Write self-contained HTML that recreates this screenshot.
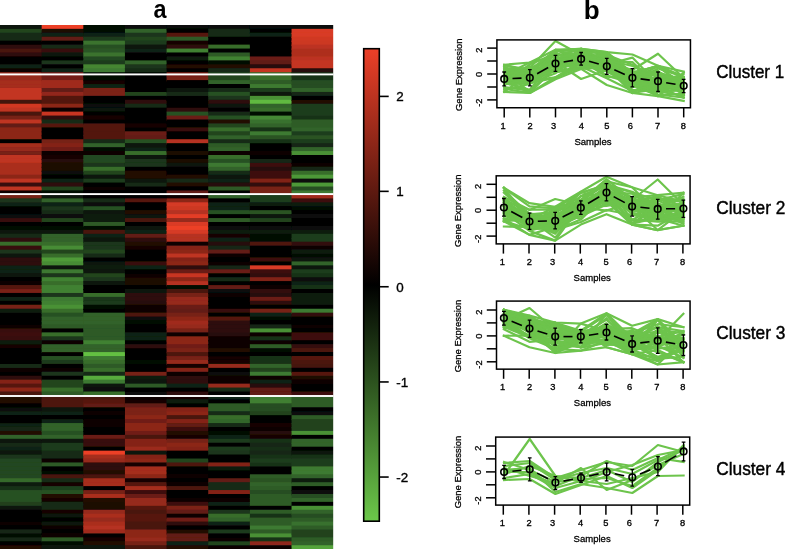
<!DOCTYPE html>
<html><head><meta charset="utf-8"><title>Figure</title>
<style>html,body{margin:0;padding:0;background:#fff}svg{display:block}text{font-family:"Liberation Sans",sans-serif;fill:#000}</style>
</head><body>
<svg width="785" height="549" viewBox="0 0 785 549">
<rect width="785" height="549" fill="#fff"/>
<defs><filter id="bl" x="-2%" y="-2%" width="104%" height="104%"><feGaussianBlur stdDeviation="0.45"/></filter>
<linearGradient id="cb" x1="0" y1="0" x2="0" y2="1">
<stop offset="0" stop-color="rgb(236, 64, 40)"/><stop offset="0.5" stop-color="#000"/><stop offset="1" stop-color="rgb(108, 200, 74)"/></linearGradient>
<clipPath id="hc"><rect x="0" y="24.9" width="333.2" height="524.2"/></clipPath>
</defs>
<g clip-path="url(#hc)"><g filter="url(#bl)">
<rect x="-3" y="24.9" width="336.2" height="529.1" fill="#000"/>
<rect x="-3.00" y="24.90" width="339.20" height="5.14" fill="#09130a"/>
<rect x="-3.00" y="28.84" width="339.20" height="5.14" fill="#22441f"/>
<rect x="-3.00" y="32.78" width="339.20" height="5.14" fill="#152c17"/>
<rect x="-3.00" y="36.73" width="339.20" height="5.14" fill="#152c17"/>
<rect x="-3.00" y="40.67" width="339.20" height="5.14" fill="#000000"/>
<rect x="-3.00" y="44.61" width="339.20" height="5.14" fill="#2d0c09"/>
<rect x="-3.00" y="48.55" width="339.20" height="5.14" fill="#48130d"/>
<rect x="-3.00" y="52.49" width="339.20" height="5.14" fill="#2d0c09"/>
<rect x="-3.00" y="56.44" width="339.20" height="5.14" fill="#000000"/>
<rect x="-3.00" y="60.38" width="339.20" height="5.14" fill="#000000"/>
<rect x="-3.00" y="64.32" width="339.20" height="5.14" fill="#102112"/>
<rect x="-3.00" y="68.26" width="339.20" height="5.14" fill="#090302"/>
<rect x="-3.00" y="72.20" width="339.20" height="5.14" fill="#96291b"/>
<rect x="-3.00" y="76.15" width="339.20" height="5.14" fill="#96291b"/>
<rect x="-3.00" y="80.09" width="339.20" height="5.14" fill="#a52d1d"/>
<rect x="-3.00" y="84.03" width="339.20" height="5.14" fill="#a52d1d"/>
<rect x="-3.00" y="87.97" width="339.20" height="5.14" fill="#c33522"/>
<rect x="-3.00" y="91.91" width="339.20" height="5.14" fill="#c33522"/>
<rect x="-3.00" y="95.86" width="339.20" height="5.14" fill="#c33522"/>
<rect x="-3.00" y="99.80" width="339.20" height="5.14" fill="#42120c"/>
<rect x="-3.00" y="103.74" width="339.20" height="5.14" fill="#d13924"/>
<rect x="-3.00" y="107.68" width="339.20" height="5.14" fill="#bf3421"/>
<rect x="-3.00" y="111.62" width="339.20" height="5.14" fill="#48130d"/>
<rect x="-3.00" y="115.57" width="339.20" height="5.14" fill="#772016"/>
<rect x="-3.00" y="119.51" width="339.20" height="5.14" fill="#bf3421"/>
<rect x="-3.00" y="123.45" width="339.20" height="5.14" fill="#621b12"/>
<rect x="-3.00" y="127.39" width="339.20" height="5.14" fill="#8c2619"/>
<rect x="-3.00" y="131.33" width="339.20" height="5.14" fill="#8c2619"/>
<rect x="-3.00" y="135.28" width="339.20" height="5.14" fill="#8c2619"/>
<rect x="-3.00" y="139.22" width="339.20" height="5.14" fill="#000000"/>
<rect x="-3.00" y="143.16" width="339.20" height="5.14" fill="#a52d1d"/>
<rect x="-3.00" y="147.10" width="339.20" height="5.14" fill="#96291b"/>
<rect x="-3.00" y="151.04" width="339.20" height="5.14" fill="#772016"/>
<rect x="-3.00" y="154.99" width="339.20" height="5.14" fill="#bf3421"/>
<rect x="-3.00" y="158.93" width="339.20" height="5.14" fill="#bf3421"/>
<rect x="-3.00" y="162.87" width="339.20" height="5.14" fill="#aa2e1e"/>
<rect x="-3.00" y="166.81" width="339.20" height="5.14" fill="#aa2e1e"/>
<rect x="-3.00" y="170.75" width="339.20" height="5.14" fill="#aa2e1e"/>
<rect x="-3.00" y="174.70" width="339.20" height="5.14" fill="#8c2619"/>
<rect x="-3.00" y="178.64" width="339.20" height="5.14" fill="#bf3421"/>
<rect x="-3.00" y="182.58" width="339.20" height="5.14" fill="#370f0a"/>
<rect x="-3.00" y="186.52" width="339.20" height="5.14" fill="#bf3421"/>
<rect x="-3.00" y="190.46" width="339.20" height="5.14" fill="#090302"/>
<rect x="-3.00" y="194.41" width="339.20" height="5.14" fill="#772016"/>
<rect x="-3.00" y="198.35" width="339.20" height="5.14" fill="#1a351a"/>
<rect x="-3.00" y="202.29" width="339.20" height="5.14" fill="#102112"/>
<rect x="-3.00" y="206.23" width="339.20" height="5.14" fill="#000000"/>
<rect x="-3.00" y="210.17" width="339.20" height="5.14" fill="#000000"/>
<rect x="-3.00" y="214.12" width="339.20" height="5.14" fill="#070e08"/>
<rect x="-3.00" y="218.06" width="339.20" height="5.14" fill="#370f0a"/>
<rect x="-3.00" y="222.00" width="339.20" height="5.14" fill="#000000"/>
<rect x="-3.00" y="225.94" width="339.20" height="5.14" fill="#050a05"/>
<rect x="-3.00" y="229.88" width="339.20" height="5.14" fill="#0b170d"/>
<rect x="-3.00" y="233.83" width="339.20" height="5.14" fill="#152c17"/>
<rect x="-3.00" y="237.77" width="339.20" height="5.14" fill="#2d0c09"/>
<rect x="-3.00" y="241.71" width="339.20" height="5.14" fill="#376d2c"/>
<rect x="-3.00" y="245.65" width="339.20" height="5.14" fill="#370f0a"/>
<rect x="-3.00" y="249.59" width="339.20" height="5.14" fill="#1a351a"/>
<rect x="-3.00" y="253.54" width="339.20" height="5.14" fill="#0b170d"/>
<rect x="-3.00" y="257.48" width="339.20" height="5.14" fill="#2d0c09"/>
<rect x="-3.00" y="261.42" width="339.20" height="5.14" fill="#2d0c09"/>
<rect x="-3.00" y="265.36" width="339.20" height="5.14" fill="#102112"/>
<rect x="-3.00" y="269.30" width="339.20" height="5.14" fill="#102112"/>
<rect x="-3.00" y="273.25" width="339.20" height="5.14" fill="#0b170d"/>
<rect x="-3.00" y="277.19" width="339.20" height="5.14" fill="#000000"/>
<rect x="-3.00" y="281.13" width="339.20" height="5.14" fill="#090302"/>
<rect x="-3.00" y="285.07" width="339.20" height="5.14" fill="#571810"/>
<rect x="-3.00" y="289.01" width="339.20" height="5.14" fill="#772016"/>
<rect x="-3.00" y="292.96" width="339.20" height="5.14" fill="#060201"/>
<rect x="-3.00" y="296.90" width="339.20" height="5.14" fill="#102112"/>
<rect x="-3.00" y="300.84" width="339.20" height="5.14" fill="#060201"/>
<rect x="-3.00" y="304.78" width="339.20" height="5.14" fill="#772016"/>
<rect x="-3.00" y="308.72" width="339.20" height="5.14" fill="#0e1c0f"/>
<rect x="-3.00" y="312.67" width="339.20" height="5.14" fill="#000000"/>
<rect x="-3.00" y="316.61" width="339.20" height="5.14" fill="#000000"/>
<rect x="-3.00" y="320.55" width="339.20" height="5.14" fill="#000000"/>
<rect x="-3.00" y="324.49" width="339.20" height="5.14" fill="#090302"/>
<rect x="-3.00" y="328.43" width="339.20" height="5.14" fill="#370f0a"/>
<rect x="-3.00" y="332.38" width="339.20" height="5.14" fill="#3d100b"/>
<rect x="-3.00" y="336.32" width="339.20" height="5.14" fill="#370f0a"/>
<rect x="-3.00" y="340.26" width="339.20" height="5.14" fill="#0e1c0f"/>
<rect x="-3.00" y="344.20" width="339.20" height="5.14" fill="#120504"/>
<rect x="-3.00" y="348.14" width="339.20" height="5.14" fill="#000000"/>
<rect x="-3.00" y="352.09" width="339.20" height="5.14" fill="#000000"/>
<rect x="-3.00" y="356.03" width="339.20" height="5.14" fill="#000000"/>
<rect x="-3.00" y="359.97" width="339.20" height="5.14" fill="#000000"/>
<rect x="-3.00" y="363.91" width="339.20" height="5.14" fill="#152c17"/>
<rect x="-3.00" y="367.85" width="339.20" height="5.14" fill="#0e0403"/>
<rect x="-3.00" y="371.80" width="339.20" height="5.14" fill="#000000"/>
<rect x="-3.00" y="375.74" width="339.20" height="5.14" fill="#2d0c09"/>
<rect x="-3.00" y="379.68" width="339.20" height="5.14" fill="#842418"/>
<rect x="-3.00" y="383.62" width="339.20" height="5.14" fill="#571810"/>
<rect x="-3.00" y="387.56" width="339.20" height="5.14" fill="#8c2619"/>
<rect x="-3.00" y="391.51" width="339.20" height="5.14" fill="#48130d"/>
<rect x="-3.00" y="395.45" width="339.20" height="5.14" fill="#220906"/>
<rect x="-3.00" y="399.39" width="339.20" height="5.14" fill="#220906"/>
<rect x="-3.00" y="403.33" width="339.20" height="5.14" fill="#000000"/>
<rect x="-3.00" y="407.27" width="339.20" height="5.14" fill="#070e08"/>
<rect x="-3.00" y="411.22" width="339.20" height="5.14" fill="#102112"/>
<rect x="-3.00" y="415.16" width="339.20" height="5.14" fill="#000000"/>
<rect x="-3.00" y="419.10" width="339.20" height="5.14" fill="#000000"/>
<rect x="-3.00" y="423.04" width="339.20" height="5.14" fill="#102112"/>
<rect x="-3.00" y="426.98" width="339.20" height="5.14" fill="#132615"/>
<rect x="-3.00" y="430.93" width="339.20" height="5.14" fill="#220906"/>
<rect x="-3.00" y="434.87" width="339.20" height="5.14" fill="#316229"/>
<rect x="-3.00" y="438.81" width="339.20" height="5.14" fill="#09130a"/>
<rect x="-3.00" y="442.75" width="339.20" height="5.14" fill="#152c17"/>
<rect x="-3.00" y="446.69" width="339.20" height="5.14" fill="#102112"/>
<rect x="-3.00" y="450.64" width="339.20" height="5.14" fill="#09130a"/>
<rect x="-3.00" y="454.58" width="339.20" height="5.14" fill="#1a351a"/>
<rect x="-3.00" y="458.52" width="339.20" height="5.14" fill="#234720"/>
<rect x="-3.00" y="462.46" width="339.20" height="5.14" fill="#234720"/>
<rect x="-3.00" y="466.40" width="339.20" height="5.14" fill="#234720"/>
<rect x="-3.00" y="470.35" width="339.20" height="5.14" fill="#234720"/>
<rect x="-3.00" y="474.29" width="339.20" height="5.14" fill="#234720"/>
<rect x="-3.00" y="478.23" width="339.20" height="5.14" fill="#356a2b"/>
<rect x="-3.00" y="482.17" width="339.20" height="5.14" fill="#0e1d10"/>
<rect x="-3.00" y="486.11" width="339.20" height="5.14" fill="#173018"/>
<rect x="-3.00" y="490.06" width="339.20" height="5.14" fill="#285124"/>
<rect x="-3.00" y="494.00" width="339.20" height="5.14" fill="#285124"/>
<rect x="-3.00" y="497.94" width="339.20" height="5.14" fill="#285124"/>
<rect x="-3.00" y="501.88" width="339.20" height="5.14" fill="#20411e"/>
<rect x="-3.00" y="505.82" width="339.20" height="5.14" fill="#0b170d"/>
<rect x="-3.00" y="509.77" width="339.20" height="5.14" fill="#000000"/>
<rect x="-3.00" y="513.71" width="339.20" height="5.14" fill="#000000"/>
<rect x="-3.00" y="517.65" width="339.20" height="5.14" fill="#000000"/>
<rect x="-3.00" y="521.59" width="339.20" height="5.14" fill="#090302"/>
<rect x="-3.00" y="525.53" width="339.20" height="5.14" fill="#000000"/>
<rect x="-3.00" y="529.48" width="339.20" height="5.14" fill="#132615"/>
<rect x="-3.00" y="533.42" width="339.20" height="5.14" fill="#050a05"/>
<rect x="-3.00" y="537.36" width="339.20" height="5.14" fill="#132615"/>
<rect x="-3.00" y="541.30" width="339.20" height="5.14" fill="#000000"/>
<rect x="-3.00" y="545.24" width="339.20" height="5.14" fill="#220906"/>
<rect x="41.65" y="24.90" width="294.55" height="5.14" fill="#ec4028"/>
<rect x="41.65" y="28.84" width="294.55" height="5.14" fill="#1c0805"/>
<rect x="41.65" y="32.78" width="294.55" height="5.14" fill="#102112"/>
<rect x="41.65" y="36.73" width="294.55" height="5.14" fill="#621b12"/>
<rect x="41.65" y="40.67" width="294.55" height="5.14" fill="#000000"/>
<rect x="41.65" y="44.61" width="294.55" height="5.14" fill="#152c17"/>
<rect x="41.65" y="48.55" width="294.55" height="5.14" fill="#370f0a"/>
<rect x="41.65" y="52.49" width="294.55" height="5.14" fill="#0b170d"/>
<rect x="41.65" y="56.44" width="294.55" height="5.14" fill="#000000"/>
<rect x="41.65" y="60.38" width="294.55" height="5.14" fill="#1a351a"/>
<rect x="41.65" y="64.32" width="294.55" height="5.14" fill="#000000"/>
<rect x="41.65" y="68.26" width="294.55" height="5.14" fill="#102112"/>
<rect x="41.65" y="72.20" width="294.55" height="5.14" fill="#731f15"/>
<rect x="41.65" y="76.15" width="294.55" height="5.14" fill="#731f15"/>
<rect x="41.65" y="80.09" width="294.55" height="5.14" fill="#a02b1c"/>
<rect x="41.65" y="84.03" width="294.55" height="5.14" fill="#a02b1c"/>
<rect x="41.65" y="87.97" width="294.55" height="5.14" fill="#621b12"/>
<rect x="41.65" y="91.91" width="294.55" height="5.14" fill="#91271a"/>
<rect x="41.65" y="95.86" width="294.55" height="5.14" fill="#52160f"/>
<rect x="41.65" y="99.80" width="294.55" height="5.14" fill="#52160f"/>
<rect x="41.65" y="103.74" width="294.55" height="5.14" fill="#8c2619"/>
<rect x="41.65" y="107.68" width="294.55" height="5.14" fill="#090302"/>
<rect x="41.65" y="111.62" width="294.55" height="5.14" fill="#c83623"/>
<rect x="41.65" y="115.57" width="294.55" height="5.14" fill="#2d0c09"/>
<rect x="41.65" y="119.51" width="294.55" height="5.14" fill="#152c17"/>
<rect x="41.65" y="123.45" width="294.55" height="5.14" fill="#571810"/>
<rect x="41.65" y="127.39" width="294.55" height="5.14" fill="#000000"/>
<rect x="41.65" y="131.33" width="294.55" height="5.14" fill="#000000"/>
<rect x="41.65" y="135.28" width="294.55" height="5.14" fill="#000000"/>
<rect x="41.65" y="139.22" width="294.55" height="5.14" fill="#772016"/>
<rect x="41.65" y="143.16" width="294.55" height="5.14" fill="#842418"/>
<rect x="41.65" y="147.10" width="294.55" height="5.14" fill="#6f1e14"/>
<rect x="41.65" y="151.04" width="294.55" height="5.14" fill="#0e0403"/>
<rect x="41.65" y="154.99" width="294.55" height="5.14" fill="#120504"/>
<rect x="41.65" y="158.93" width="294.55" height="5.14" fill="#270b07"/>
<rect x="41.65" y="162.87" width="294.55" height="5.14" fill="#1c0805"/>
<rect x="41.65" y="166.81" width="294.55" height="5.14" fill="#1c0805"/>
<rect x="41.65" y="170.75" width="294.55" height="5.14" fill="#070e08"/>
<rect x="41.65" y="174.70" width="294.55" height="5.14" fill="#000000"/>
<rect x="41.65" y="178.64" width="294.55" height="5.14" fill="#102112"/>
<rect x="41.65" y="182.58" width="294.55" height="5.14" fill="#2d0c09"/>
<rect x="41.65" y="186.52" width="294.55" height="5.14" fill="#22441f"/>
<rect x="41.65" y="190.46" width="294.55" height="5.14" fill="#050a05"/>
<rect x="41.65" y="194.41" width="294.55" height="5.14" fill="#09130a"/>
<rect x="41.65" y="198.35" width="294.55" height="5.14" fill="#316229"/>
<rect x="41.65" y="202.29" width="294.55" height="5.14" fill="#102112"/>
<rect x="41.65" y="206.23" width="294.55" height="5.14" fill="#1a351a"/>
<rect x="41.65" y="210.17" width="294.55" height="5.14" fill="#152c17"/>
<rect x="41.65" y="214.12" width="294.55" height="5.14" fill="#070e08"/>
<rect x="41.65" y="218.06" width="294.55" height="5.14" fill="#22441f"/>
<rect x="41.65" y="222.00" width="294.55" height="5.14" fill="#000000"/>
<rect x="41.65" y="225.94" width="294.55" height="5.14" fill="#050a05"/>
<rect x="41.65" y="229.88" width="294.55" height="5.14" fill="#0b170d"/>
<rect x="41.65" y="233.83" width="294.55" height="5.14" fill="#316229"/>
<rect x="41.65" y="237.77" width="294.55" height="5.14" fill="#316229"/>
<rect x="41.65" y="241.71" width="294.55" height="5.14" fill="#376d2c"/>
<rect x="41.65" y="245.65" width="294.55" height="5.14" fill="#478c35"/>
<rect x="41.65" y="249.59" width="294.55" height="5.14" fill="#22441f"/>
<rect x="41.65" y="253.54" width="294.55" height="5.14" fill="#376d2c"/>
<rect x="41.65" y="257.48" width="294.55" height="5.14" fill="#4f9b39"/>
<rect x="41.65" y="261.42" width="294.55" height="5.14" fill="#478c35"/>
<rect x="41.65" y="265.36" width="294.55" height="5.14" fill="#0b170d"/>
<rect x="41.65" y="269.30" width="294.55" height="5.14" fill="#3d7930"/>
<rect x="41.65" y="273.25" width="294.55" height="5.14" fill="#1a351a"/>
<rect x="41.65" y="277.19" width="294.55" height="5.14" fill="#418132"/>
<rect x="41.65" y="281.13" width="294.55" height="5.14" fill="#376d2c"/>
<rect x="41.65" y="285.07" width="294.55" height="5.14" fill="#418132"/>
<rect x="41.65" y="289.01" width="294.55" height="5.14" fill="#418132"/>
<rect x="41.65" y="292.96" width="294.55" height="5.14" fill="#1a351a"/>
<rect x="41.65" y="296.90" width="294.55" height="5.14" fill="#3d7930"/>
<rect x="41.65" y="300.84" width="294.55" height="5.14" fill="#418132"/>
<rect x="41.65" y="304.78" width="294.55" height="5.14" fill="#4a9136"/>
<rect x="41.65" y="308.72" width="294.55" height="5.14" fill="#376d2c"/>
<rect x="41.65" y="312.67" width="294.55" height="5.14" fill="#285124"/>
<rect x="41.65" y="316.61" width="294.55" height="5.14" fill="#316229"/>
<rect x="41.65" y="320.55" width="294.55" height="5.14" fill="#316229"/>
<rect x="41.65" y="324.49" width="294.55" height="5.14" fill="#2d5a26"/>
<rect x="41.65" y="328.43" width="294.55" height="5.14" fill="#000000"/>
<rect x="41.65" y="332.38" width="294.55" height="5.14" fill="#376d2c"/>
<rect x="41.65" y="336.32" width="294.55" height="5.14" fill="#1a351a"/>
<rect x="41.65" y="340.26" width="294.55" height="5.14" fill="#090302"/>
<rect x="41.65" y="344.20" width="294.55" height="5.14" fill="#316229"/>
<rect x="41.65" y="348.14" width="294.55" height="5.14" fill="#316229"/>
<rect x="41.65" y="352.09" width="294.55" height="5.14" fill="#060201"/>
<rect x="41.65" y="356.03" width="294.55" height="5.14" fill="#285124"/>
<rect x="41.65" y="359.97" width="294.55" height="5.14" fill="#1d3a1c"/>
<rect x="41.65" y="363.91" width="294.55" height="5.14" fill="#030603"/>
<rect x="41.65" y="367.85" width="294.55" height="5.14" fill="#0e0403"/>
<rect x="41.65" y="371.80" width="294.55" height="5.14" fill="#1a351a"/>
<rect x="41.65" y="375.74" width="294.55" height="5.14" fill="#000000"/>
<rect x="41.65" y="379.68" width="294.55" height="5.14" fill="#22441f"/>
<rect x="41.65" y="383.62" width="294.55" height="5.14" fill="#22441f"/>
<rect x="41.65" y="387.56" width="294.55" height="5.14" fill="#376d2c"/>
<rect x="41.65" y="391.51" width="294.55" height="5.14" fill="#2d5a26"/>
<rect x="41.65" y="395.45" width="294.55" height="5.14" fill="#48130d"/>
<rect x="41.65" y="399.39" width="294.55" height="5.14" fill="#4d150e"/>
<rect x="41.65" y="403.33" width="294.55" height="5.14" fill="#4d150e"/>
<rect x="41.65" y="407.27" width="294.55" height="5.14" fill="#09130a"/>
<rect x="41.65" y="411.22" width="294.55" height="5.14" fill="#102112"/>
<rect x="41.65" y="415.16" width="294.55" height="5.14" fill="#000000"/>
<rect x="41.65" y="419.10" width="294.55" height="5.14" fill="#102112"/>
<rect x="41.65" y="423.04" width="294.55" height="5.14" fill="#316229"/>
<rect x="41.65" y="426.98" width="294.55" height="5.14" fill="#316229"/>
<rect x="41.65" y="430.93" width="294.55" height="5.14" fill="#285124"/>
<rect x="41.65" y="434.87" width="294.55" height="5.14" fill="#316229"/>
<rect x="41.65" y="438.81" width="294.55" height="5.14" fill="#09130a"/>
<rect x="41.65" y="442.75" width="294.55" height="5.14" fill="#1d3a1c"/>
<rect x="41.65" y="446.69" width="294.55" height="5.14" fill="#1d3a1c"/>
<rect x="41.65" y="450.64" width="294.55" height="5.14" fill="#152c17"/>
<rect x="41.65" y="454.58" width="294.55" height="5.14" fill="#152c17"/>
<rect x="41.65" y="458.52" width="294.55" height="5.14" fill="#0e0403"/>
<rect x="41.65" y="462.46" width="294.55" height="5.14" fill="#2d5a26"/>
<rect x="41.65" y="466.40" width="294.55" height="5.14" fill="#000000"/>
<rect x="41.65" y="470.35" width="294.55" height="5.14" fill="#050a05"/>
<rect x="41.65" y="474.29" width="294.55" height="5.14" fill="#48130d"/>
<rect x="41.65" y="478.23" width="294.55" height="5.14" fill="#152c17"/>
<rect x="41.65" y="482.17" width="294.55" height="5.14" fill="#120504"/>
<rect x="41.65" y="486.11" width="294.55" height="5.14" fill="#1f3f1e"/>
<rect x="41.65" y="490.06" width="294.55" height="5.14" fill="#285124"/>
<rect x="41.65" y="494.00" width="294.55" height="5.14" fill="#220906"/>
<rect x="41.65" y="497.94" width="294.55" height="5.14" fill="#120504"/>
<rect x="41.65" y="501.88" width="294.55" height="5.14" fill="#152c17"/>
<rect x="41.65" y="505.82" width="294.55" height="5.14" fill="#152c17"/>
<rect x="41.65" y="509.77" width="294.55" height="5.14" fill="#120504"/>
<rect x="41.65" y="513.71" width="294.55" height="5.14" fill="#09130a"/>
<rect x="41.65" y="517.65" width="294.55" height="5.14" fill="#000000"/>
<rect x="41.65" y="521.59" width="294.55" height="5.14" fill="#09130a"/>
<rect x="41.65" y="525.53" width="294.55" height="5.14" fill="#0e0403"/>
<rect x="41.65" y="529.48" width="294.55" height="5.14" fill="#000000"/>
<rect x="41.65" y="533.42" width="294.55" height="5.14" fill="#0e0403"/>
<rect x="41.65" y="537.36" width="294.55" height="5.14" fill="#2d5a26"/>
<rect x="41.65" y="541.30" width="294.55" height="5.14" fill="#050a05"/>
<rect x="41.65" y="545.24" width="294.55" height="5.14" fill="#0b170d"/>
<rect x="83.30" y="24.90" width="252.90" height="5.14" fill="#050a05"/>
<rect x="83.30" y="28.84" width="252.90" height="5.14" fill="#050a05"/>
<rect x="83.30" y="32.78" width="252.90" height="5.14" fill="#102112"/>
<rect x="83.30" y="36.73" width="252.90" height="5.14" fill="#1d3b1c"/>
<rect x="83.30" y="40.67" width="252.90" height="5.14" fill="#3a732e"/>
<rect x="83.30" y="44.61" width="252.90" height="5.14" fill="#285023"/>
<rect x="83.30" y="48.55" width="252.90" height="5.14" fill="#2b5725"/>
<rect x="83.30" y="52.49" width="252.90" height="5.14" fill="#3a732e"/>
<rect x="83.30" y="56.44" width="252.90" height="5.14" fill="#244820"/>
<rect x="83.30" y="60.38" width="252.90" height="5.14" fill="#1d3b1c"/>
<rect x="83.30" y="64.32" width="252.90" height="5.14" fill="#448533"/>
<rect x="83.30" y="68.26" width="252.90" height="5.14" fill="#3e7a30"/>
<rect x="83.30" y="72.20" width="252.90" height="5.14" fill="#050a05"/>
<rect x="83.30" y="76.15" width="252.90" height="5.14" fill="#050a05"/>
<rect x="83.30" y="80.09" width="252.90" height="5.14" fill="#120504"/>
<rect x="83.30" y="84.03" width="252.90" height="5.14" fill="#102112"/>
<rect x="83.30" y="87.97" width="252.90" height="5.14" fill="#7b2116"/>
<rect x="83.30" y="91.91" width="252.90" height="5.14" fill="#7b2116"/>
<rect x="83.30" y="95.86" width="252.90" height="5.14" fill="#000000"/>
<rect x="83.30" y="99.80" width="252.90" height="5.14" fill="#030603"/>
<rect x="83.30" y="103.74" width="252.90" height="5.14" fill="#070e08"/>
<rect x="83.30" y="107.68" width="252.90" height="5.14" fill="#09130a"/>
<rect x="83.30" y="111.62" width="252.90" height="5.14" fill="#000000"/>
<rect x="83.30" y="115.57" width="252.90" height="5.14" fill="#120504"/>
<rect x="83.30" y="119.51" width="252.90" height="5.14" fill="#000000"/>
<rect x="83.30" y="123.45" width="252.90" height="5.14" fill="#52160f"/>
<rect x="83.30" y="127.39" width="252.90" height="5.14" fill="#52160f"/>
<rect x="83.30" y="131.33" width="252.90" height="5.14" fill="#52160f"/>
<rect x="83.30" y="135.28" width="252.90" height="5.14" fill="#52160f"/>
<rect x="83.30" y="139.22" width="252.90" height="5.14" fill="#152c17"/>
<rect x="83.30" y="143.16" width="252.90" height="5.14" fill="#316229"/>
<rect x="83.30" y="147.10" width="252.90" height="5.14" fill="#050a05"/>
<rect x="83.30" y="151.04" width="252.90" height="5.14" fill="#0e0403"/>
<rect x="83.30" y="154.99" width="252.90" height="5.14" fill="#244921"/>
<rect x="83.30" y="158.93" width="252.90" height="5.14" fill="#244921"/>
<rect x="83.30" y="162.87" width="252.90" height="5.14" fill="#1a351a"/>
<rect x="83.30" y="166.81" width="252.90" height="5.14" fill="#376d2c"/>
<rect x="83.30" y="170.75" width="252.90" height="5.14" fill="#22441f"/>
<rect x="83.30" y="174.70" width="252.90" height="5.14" fill="#09130a"/>
<rect x="83.30" y="178.64" width="252.90" height="5.14" fill="#1d3a1c"/>
<rect x="83.30" y="182.58" width="252.90" height="5.14" fill="#000000"/>
<rect x="83.30" y="186.52" width="252.90" height="5.14" fill="#090302"/>
<rect x="83.30" y="190.46" width="252.90" height="5.14" fill="#000000"/>
<rect x="83.30" y="194.41" width="252.90" height="5.14" fill="#000000"/>
<rect x="83.30" y="198.35" width="252.90" height="5.14" fill="#152c17"/>
<rect x="83.30" y="202.29" width="252.90" height="5.14" fill="#070e08"/>
<rect x="83.30" y="206.23" width="252.90" height="5.14" fill="#285124"/>
<rect x="83.30" y="210.17" width="252.90" height="5.14" fill="#09130a"/>
<rect x="83.30" y="214.12" width="252.90" height="5.14" fill="#0e1c0f"/>
<rect x="83.30" y="218.06" width="252.90" height="5.14" fill="#0e1c0f"/>
<rect x="83.30" y="222.00" width="252.90" height="5.14" fill="#2d5a26"/>
<rect x="83.30" y="225.94" width="252.90" height="5.14" fill="#050a05"/>
<rect x="83.30" y="229.88" width="252.90" height="5.14" fill="#48130d"/>
<rect x="83.30" y="233.83" width="252.90" height="5.14" fill="#102112"/>
<rect x="83.30" y="237.77" width="252.90" height="5.14" fill="#09130a"/>
<rect x="83.30" y="241.71" width="252.90" height="5.14" fill="#1a351a"/>
<rect x="83.30" y="245.65" width="252.90" height="5.14" fill="#1a351a"/>
<rect x="83.30" y="249.59" width="252.90" height="5.14" fill="#22441f"/>
<rect x="83.30" y="253.54" width="252.90" height="5.14" fill="#152c17"/>
<rect x="83.30" y="257.48" width="252.90" height="5.14" fill="#000000"/>
<rect x="83.30" y="261.42" width="252.90" height="5.14" fill="#0b170d"/>
<rect x="83.30" y="265.36" width="252.90" height="5.14" fill="#0e1c0f"/>
<rect x="83.30" y="269.30" width="252.90" height="5.14" fill="#09130a"/>
<rect x="83.30" y="273.25" width="252.90" height="5.14" fill="#22441f"/>
<rect x="83.30" y="277.19" width="252.90" height="5.14" fill="#1a351a"/>
<rect x="83.30" y="281.13" width="252.90" height="5.14" fill="#09130a"/>
<rect x="83.30" y="285.07" width="252.90" height="5.14" fill="#000000"/>
<rect x="83.30" y="289.01" width="252.90" height="5.14" fill="#010201"/>
<rect x="83.30" y="292.96" width="252.90" height="5.14" fill="#376d2c"/>
<rect x="83.30" y="296.90" width="252.90" height="5.14" fill="#1a351a"/>
<rect x="83.30" y="300.84" width="252.90" height="5.14" fill="#1d3a1c"/>
<rect x="83.30" y="304.78" width="252.90" height="5.14" fill="#050a05"/>
<rect x="83.30" y="308.72" width="252.90" height="5.14" fill="#010201"/>
<rect x="83.30" y="312.67" width="252.90" height="5.14" fill="#316229"/>
<rect x="83.30" y="316.61" width="252.90" height="5.14" fill="#316229"/>
<rect x="83.30" y="320.55" width="252.90" height="5.14" fill="#316229"/>
<rect x="83.30" y="324.49" width="252.90" height="5.14" fill="#2d5a26"/>
<rect x="83.30" y="328.43" width="252.90" height="5.14" fill="#2d5a26"/>
<rect x="83.30" y="332.38" width="252.90" height="5.14" fill="#2d5a26"/>
<rect x="83.30" y="336.32" width="252.90" height="5.14" fill="#2d5a26"/>
<rect x="83.30" y="340.26" width="252.90" height="5.14" fill="#418132"/>
<rect x="83.30" y="344.20" width="252.90" height="5.14" fill="#316229"/>
<rect x="83.30" y="348.14" width="252.90" height="5.14" fill="#316229"/>
<rect x="83.30" y="352.09" width="252.90" height="5.14" fill="#64c042"/>
<rect x="83.30" y="356.03" width="252.90" height="5.14" fill="#3d7930"/>
<rect x="83.30" y="359.97" width="252.90" height="5.14" fill="#376d2c"/>
<rect x="83.30" y="363.91" width="252.90" height="5.14" fill="#2d5a26"/>
<rect x="83.30" y="367.85" width="252.90" height="5.14" fill="#376d2c"/>
<rect x="83.30" y="371.80" width="252.90" height="5.14" fill="#152c17"/>
<rect x="83.30" y="375.74" width="252.90" height="5.14" fill="#58ab3d"/>
<rect x="83.30" y="379.68" width="252.90" height="5.14" fill="#3d7930"/>
<rect x="83.30" y="383.62" width="252.90" height="5.14" fill="#09130a"/>
<rect x="83.30" y="387.56" width="252.90" height="5.14" fill="#070e08"/>
<rect x="83.30" y="391.51" width="252.90" height="5.14" fill="#376d2c"/>
<rect x="83.30" y="395.45" width="252.90" height="5.14" fill="#48130d"/>
<rect x="83.30" y="399.39" width="252.90" height="5.14" fill="#571810"/>
<rect x="83.30" y="403.33" width="252.90" height="5.14" fill="#621b12"/>
<rect x="83.30" y="407.27" width="252.90" height="5.14" fill="#000000"/>
<rect x="83.30" y="411.22" width="252.90" height="5.14" fill="#090302"/>
<rect x="83.30" y="415.16" width="252.90" height="5.14" fill="#010201"/>
<rect x="83.30" y="419.10" width="252.90" height="5.14" fill="#090302"/>
<rect x="83.30" y="423.04" width="252.90" height="5.14" fill="#090302"/>
<rect x="83.30" y="426.98" width="252.90" height="5.14" fill="#000000"/>
<rect x="83.30" y="430.93" width="252.90" height="5.14" fill="#000000"/>
<rect x="83.30" y="434.87" width="252.90" height="5.14" fill="#6a1d14"/>
<rect x="83.30" y="438.81" width="252.90" height="5.14" fill="#370f0a"/>
<rect x="83.30" y="442.75" width="252.90" height="5.14" fill="#370f0a"/>
<rect x="83.30" y="446.69" width="252.90" height="5.14" fill="#000000"/>
<rect x="83.30" y="450.64" width="252.90" height="5.14" fill="#ec4028"/>
<rect x="83.30" y="454.58" width="252.90" height="5.14" fill="#a52d1d"/>
<rect x="83.30" y="458.52" width="252.90" height="5.14" fill="#96291b"/>
<rect x="83.30" y="462.46" width="252.90" height="5.14" fill="#2d0c09"/>
<rect x="83.30" y="466.40" width="252.90" height="5.14" fill="#2d0c09"/>
<rect x="83.30" y="470.35" width="252.90" height="5.14" fill="#220906"/>
<rect x="83.30" y="474.29" width="252.90" height="5.14" fill="#48130d"/>
<rect x="83.30" y="478.23" width="252.90" height="5.14" fill="#a52d1d"/>
<rect x="83.30" y="482.17" width="252.90" height="5.14" fill="#a52d1d"/>
<rect x="83.30" y="486.11" width="252.90" height="5.14" fill="#000000"/>
<rect x="83.30" y="490.06" width="252.90" height="5.14" fill="#772016"/>
<rect x="83.30" y="494.00" width="252.90" height="5.14" fill="#aa2e1e"/>
<rect x="83.30" y="497.94" width="252.90" height="5.14" fill="#220906"/>
<rect x="83.30" y="501.88" width="252.90" height="5.14" fill="#1c0805"/>
<rect x="83.30" y="505.82" width="252.90" height="5.14" fill="#1c0805"/>
<rect x="83.30" y="509.77" width="252.90" height="5.14" fill="#96291b"/>
<rect x="83.30" y="513.71" width="252.90" height="5.14" fill="#aa2e1e"/>
<rect x="83.30" y="517.65" width="252.90" height="5.14" fill="#96291b"/>
<rect x="83.30" y="521.59" width="252.90" height="5.14" fill="#aa2e1e"/>
<rect x="83.30" y="525.53" width="252.90" height="5.14" fill="#b53120"/>
<rect x="83.30" y="529.48" width="252.90" height="5.14" fill="#a02b1c"/>
<rect x="83.30" y="533.42" width="252.90" height="5.14" fill="#020100"/>
<rect x="83.30" y="537.36" width="252.90" height="5.14" fill="#120504"/>
<rect x="83.30" y="541.30" width="252.90" height="5.14" fill="#220906"/>
<rect x="83.30" y="545.24" width="252.90" height="5.14" fill="#0b170d"/>
<rect x="124.95" y="24.90" width="211.25" height="5.14" fill="#070e08"/>
<rect x="124.95" y="28.84" width="211.25" height="5.14" fill="#316229"/>
<rect x="124.95" y="32.78" width="211.25" height="5.14" fill="#1a351a"/>
<rect x="124.95" y="36.73" width="211.25" height="5.14" fill="#22441f"/>
<rect x="124.95" y="40.67" width="211.25" height="5.14" fill="#1d3a1c"/>
<rect x="124.95" y="44.61" width="211.25" height="5.14" fill="#09130a"/>
<rect x="124.95" y="48.55" width="211.25" height="5.14" fill="#102112"/>
<rect x="124.95" y="52.49" width="211.25" height="5.14" fill="#000000"/>
<rect x="124.95" y="56.44" width="211.25" height="5.14" fill="#000000"/>
<rect x="124.95" y="60.38" width="211.25" height="5.14" fill="#316229"/>
<rect x="124.95" y="64.32" width="211.25" height="5.14" fill="#1a351a"/>
<rect x="124.95" y="68.26" width="211.25" height="5.14" fill="#152c17"/>
<rect x="124.95" y="72.20" width="211.25" height="5.14" fill="#000000"/>
<rect x="124.95" y="76.15" width="211.25" height="5.14" fill="#000000"/>
<rect x="124.95" y="80.09" width="211.25" height="5.14" fill="#000000"/>
<rect x="124.95" y="84.03" width="211.25" height="5.14" fill="#000000"/>
<rect x="124.95" y="87.97" width="211.25" height="5.14" fill="#000000"/>
<rect x="124.95" y="91.91" width="211.25" height="5.14" fill="#22441f"/>
<rect x="124.95" y="95.86" width="211.25" height="5.14" fill="#030603"/>
<rect x="124.95" y="99.80" width="211.25" height="5.14" fill="#2d0c09"/>
<rect x="124.95" y="103.74" width="211.25" height="5.14" fill="#152c17"/>
<rect x="124.95" y="107.68" width="211.25" height="5.14" fill="#000000"/>
<rect x="124.95" y="111.62" width="211.25" height="5.14" fill="#000000"/>
<rect x="124.95" y="115.57" width="211.25" height="5.14" fill="#000000"/>
<rect x="124.95" y="119.51" width="211.25" height="5.14" fill="#000000"/>
<rect x="124.95" y="123.45" width="211.25" height="5.14" fill="#170604"/>
<rect x="124.95" y="127.39" width="211.25" height="5.14" fill="#060201"/>
<rect x="124.95" y="131.33" width="211.25" height="5.14" fill="#6a1d14"/>
<rect x="124.95" y="135.28" width="211.25" height="5.14" fill="#621b12"/>
<rect x="124.95" y="139.22" width="211.25" height="5.14" fill="#285124"/>
<rect x="124.95" y="143.16" width="211.25" height="5.14" fill="#09130a"/>
<rect x="124.95" y="147.10" width="211.25" height="5.14" fill="#102112"/>
<rect x="124.95" y="151.04" width="211.25" height="5.14" fill="#376d2c"/>
<rect x="124.95" y="154.99" width="211.25" height="5.14" fill="#0b170d"/>
<rect x="124.95" y="158.93" width="211.25" height="5.14" fill="#1a351a"/>
<rect x="124.95" y="162.87" width="211.25" height="5.14" fill="#1a351a"/>
<rect x="124.95" y="166.81" width="211.25" height="5.14" fill="#000000"/>
<rect x="124.95" y="170.75" width="211.25" height="5.14" fill="#220906"/>
<rect x="124.95" y="174.70" width="211.25" height="5.14" fill="#220906"/>
<rect x="124.95" y="178.64" width="211.25" height="5.14" fill="#09130a"/>
<rect x="124.95" y="182.58" width="211.25" height="5.14" fill="#152c17"/>
<rect x="124.95" y="186.52" width="211.25" height="5.14" fill="#000000"/>
<rect x="124.95" y="190.46" width="211.25" height="5.14" fill="#000000"/>
<rect x="124.95" y="194.41" width="211.25" height="5.14" fill="#000000"/>
<rect x="124.95" y="198.35" width="211.25" height="5.14" fill="#571810"/>
<rect x="124.95" y="202.29" width="211.25" height="5.14" fill="#000000"/>
<rect x="124.95" y="206.23" width="211.25" height="5.14" fill="#000000"/>
<rect x="124.95" y="210.17" width="211.25" height="5.14" fill="#220906"/>
<rect x="124.95" y="214.12" width="211.25" height="5.14" fill="#09130a"/>
<rect x="124.95" y="218.06" width="211.25" height="5.14" fill="#48130d"/>
<rect x="124.95" y="222.00" width="211.25" height="5.14" fill="#000000"/>
<rect x="124.95" y="225.94" width="211.25" height="5.14" fill="#09130a"/>
<rect x="124.95" y="229.88" width="211.25" height="5.14" fill="#102112"/>
<rect x="124.95" y="233.83" width="211.25" height="5.14" fill="#621b12"/>
<rect x="124.95" y="237.77" width="211.25" height="5.14" fill="#2d0c09"/>
<rect x="124.95" y="241.71" width="211.25" height="5.14" fill="#220906"/>
<rect x="124.95" y="245.65" width="211.25" height="5.14" fill="#170604"/>
<rect x="124.95" y="249.59" width="211.25" height="5.14" fill="#000000"/>
<rect x="124.95" y="253.54" width="211.25" height="5.14" fill="#000000"/>
<rect x="124.95" y="257.48" width="211.25" height="5.14" fill="#000000"/>
<rect x="124.95" y="261.42" width="211.25" height="5.14" fill="#370f0a"/>
<rect x="124.95" y="265.36" width="211.25" height="5.14" fill="#102112"/>
<rect x="124.95" y="269.30" width="211.25" height="5.14" fill="#000000"/>
<rect x="124.95" y="273.25" width="211.25" height="5.14" fill="#090302"/>
<rect x="124.95" y="277.19" width="211.25" height="5.14" fill="#1c0805"/>
<rect x="124.95" y="281.13" width="211.25" height="5.14" fill="#1c0805"/>
<rect x="124.95" y="285.07" width="211.25" height="5.14" fill="#000000"/>
<rect x="124.95" y="289.01" width="211.25" height="5.14" fill="#0b170d"/>
<rect x="124.95" y="292.96" width="211.25" height="5.14" fill="#2d0c09"/>
<rect x="124.95" y="296.90" width="211.25" height="5.14" fill="#2d0c09"/>
<rect x="124.95" y="300.84" width="211.25" height="5.14" fill="#270b07"/>
<rect x="124.95" y="304.78" width="211.25" height="5.14" fill="#090302"/>
<rect x="124.95" y="308.72" width="211.25" height="5.14" fill="#0e0403"/>
<rect x="124.95" y="312.67" width="211.25" height="5.14" fill="#4d150e"/>
<rect x="124.95" y="316.61" width="211.25" height="5.14" fill="#070e08"/>
<rect x="124.95" y="320.55" width="211.25" height="5.14" fill="#050a05"/>
<rect x="124.95" y="324.49" width="211.25" height="5.14" fill="#000000"/>
<rect x="124.95" y="328.43" width="211.25" height="5.14" fill="#000000"/>
<rect x="124.95" y="332.38" width="211.25" height="5.14" fill="#102112"/>
<rect x="124.95" y="336.32" width="211.25" height="5.14" fill="#102112"/>
<rect x="124.95" y="340.26" width="211.25" height="5.14" fill="#000000"/>
<rect x="124.95" y="344.20" width="211.25" height="5.14" fill="#2d0c09"/>
<rect x="124.95" y="348.14" width="211.25" height="5.14" fill="#020100"/>
<rect x="124.95" y="352.09" width="211.25" height="5.14" fill="#020100"/>
<rect x="124.95" y="356.03" width="211.25" height="5.14" fill="#020100"/>
<rect x="124.95" y="359.97" width="211.25" height="5.14" fill="#050a05"/>
<rect x="124.95" y="363.91" width="211.25" height="5.14" fill="#000000"/>
<rect x="124.95" y="367.85" width="211.25" height="5.14" fill="#000000"/>
<rect x="124.95" y="371.80" width="211.25" height="5.14" fill="#772016"/>
<rect x="124.95" y="375.74" width="211.25" height="5.14" fill="#0e1c0f"/>
<rect x="124.95" y="379.68" width="211.25" height="5.14" fill="#09130a"/>
<rect x="124.95" y="383.62" width="211.25" height="5.14" fill="#2d5a26"/>
<rect x="124.95" y="387.56" width="211.25" height="5.14" fill="#000000"/>
<rect x="124.95" y="391.51" width="211.25" height="5.14" fill="#070e08"/>
<rect x="124.95" y="395.45" width="211.25" height="5.14" fill="#0e0403"/>
<rect x="124.95" y="399.39" width="211.25" height="5.14" fill="#120504"/>
<rect x="124.95" y="403.33" width="211.25" height="5.14" fill="#621b12"/>
<rect x="124.95" y="407.27" width="211.25" height="5.14" fill="#7b2116"/>
<rect x="124.95" y="411.22" width="211.25" height="5.14" fill="#7b2116"/>
<rect x="124.95" y="415.16" width="211.25" height="5.14" fill="#8c2619"/>
<rect x="124.95" y="419.10" width="211.25" height="5.14" fill="#6f1e14"/>
<rect x="124.95" y="423.04" width="211.25" height="5.14" fill="#8c2619"/>
<rect x="124.95" y="426.98" width="211.25" height="5.14" fill="#8c2619"/>
<rect x="124.95" y="430.93" width="211.25" height="5.14" fill="#6f1e14"/>
<rect x="124.95" y="434.87" width="211.25" height="5.14" fill="#48130d"/>
<rect x="124.95" y="438.81" width="211.25" height="5.14" fill="#842418"/>
<rect x="124.95" y="442.75" width="211.25" height="5.14" fill="#842418"/>
<rect x="124.95" y="446.69" width="211.25" height="5.14" fill="#9b2a1c"/>
<rect x="124.95" y="450.64" width="211.25" height="5.14" fill="#0b170d"/>
<rect x="124.95" y="454.58" width="211.25" height="5.14" fill="#842418"/>
<rect x="124.95" y="458.52" width="211.25" height="5.14" fill="#8c2619"/>
<rect x="124.95" y="462.46" width="211.25" height="5.14" fill="#120504"/>
<rect x="124.95" y="466.40" width="211.25" height="5.14" fill="#a52d1d"/>
<rect x="124.95" y="470.35" width="211.25" height="5.14" fill="#a52d1d"/>
<rect x="124.95" y="474.29" width="211.25" height="5.14" fill="#8c2619"/>
<rect x="124.95" y="478.23" width="211.25" height="5.14" fill="#120504"/>
<rect x="124.95" y="482.17" width="211.25" height="5.14" fill="#571810"/>
<rect x="124.95" y="486.11" width="211.25" height="5.14" fill="#a52d1d"/>
<rect x="124.95" y="490.06" width="211.25" height="5.14" fill="#3d100b"/>
<rect x="124.95" y="494.00" width="211.25" height="5.14" fill="#6a1d14"/>
<rect x="124.95" y="497.94" width="211.25" height="5.14" fill="#96291b"/>
<rect x="124.95" y="501.88" width="211.25" height="5.14" fill="#96291b"/>
<rect x="124.95" y="505.82" width="211.25" height="5.14" fill="#571810"/>
<rect x="124.95" y="509.77" width="211.25" height="5.14" fill="#48130d"/>
<rect x="124.95" y="513.71" width="211.25" height="5.14" fill="#571810"/>
<rect x="124.95" y="517.65" width="211.25" height="5.14" fill="#571810"/>
<rect x="124.95" y="521.59" width="211.25" height="5.14" fill="#48130d"/>
<rect x="124.95" y="525.53" width="211.25" height="5.14" fill="#48130d"/>
<rect x="124.95" y="529.48" width="211.25" height="5.14" fill="#8c2619"/>
<rect x="124.95" y="533.42" width="211.25" height="5.14" fill="#8c2619"/>
<rect x="124.95" y="537.36" width="211.25" height="5.14" fill="#96291b"/>
<rect x="124.95" y="541.30" width="211.25" height="5.14" fill="#772016"/>
<rect x="124.95" y="545.24" width="211.25" height="5.14" fill="#48130d"/>
<rect x="166.60" y="24.90" width="169.60" height="5.14" fill="#070e08"/>
<rect x="166.60" y="28.84" width="169.60" height="5.14" fill="#000000"/>
<rect x="166.60" y="32.78" width="169.60" height="5.14" fill="#571810"/>
<rect x="166.60" y="36.73" width="169.60" height="5.14" fill="#2d5a26"/>
<rect x="166.60" y="40.67" width="169.60" height="5.14" fill="#120504"/>
<rect x="166.60" y="44.61" width="169.60" height="5.14" fill="#2d0c09"/>
<rect x="166.60" y="48.55" width="169.60" height="5.14" fill="#418132"/>
<rect x="166.60" y="52.49" width="169.60" height="5.14" fill="#000000"/>
<rect x="166.60" y="56.44" width="169.60" height="5.14" fill="#0e1c0f"/>
<rect x="166.60" y="60.38" width="169.60" height="5.14" fill="#000000"/>
<rect x="166.60" y="64.32" width="169.60" height="5.14" fill="#220906"/>
<rect x="166.60" y="68.26" width="169.60" height="5.14" fill="#000000"/>
<rect x="166.60" y="72.20" width="169.60" height="5.14" fill="#772016"/>
<rect x="166.60" y="76.15" width="169.60" height="5.14" fill="#772016"/>
<rect x="166.60" y="80.09" width="169.60" height="5.14" fill="#000000"/>
<rect x="166.60" y="84.03" width="169.60" height="5.14" fill="#060201"/>
<rect x="166.60" y="87.97" width="169.60" height="5.14" fill="#0b170d"/>
<rect x="166.60" y="91.91" width="169.60" height="5.14" fill="#152c17"/>
<rect x="166.60" y="95.86" width="169.60" height="5.14" fill="#000000"/>
<rect x="166.60" y="99.80" width="169.60" height="5.14" fill="#030603"/>
<rect x="166.60" y="103.74" width="169.60" height="5.14" fill="#000000"/>
<rect x="166.60" y="107.68" width="169.60" height="5.14" fill="#2d0c09"/>
<rect x="166.60" y="111.62" width="169.60" height="5.14" fill="#285124"/>
<rect x="166.60" y="115.57" width="169.60" height="5.14" fill="#6a1d14"/>
<rect x="166.60" y="119.51" width="169.60" height="5.14" fill="#020100"/>
<rect x="166.60" y="123.45" width="169.60" height="5.14" fill="#000000"/>
<rect x="166.60" y="127.39" width="169.60" height="5.14" fill="#370f0a"/>
<rect x="166.60" y="131.33" width="169.60" height="5.14" fill="#000000"/>
<rect x="166.60" y="135.28" width="169.60" height="5.14" fill="#000000"/>
<rect x="166.60" y="139.22" width="169.60" height="5.14" fill="#b53120"/>
<rect x="166.60" y="143.16" width="169.60" height="5.14" fill="#010201"/>
<rect x="166.60" y="147.10" width="169.60" height="5.14" fill="#000000"/>
<rect x="166.60" y="151.04" width="169.60" height="5.14" fill="#1c0805"/>
<rect x="166.60" y="154.99" width="169.60" height="5.14" fill="#000000"/>
<rect x="166.60" y="158.93" width="169.60" height="5.14" fill="#1c0805"/>
<rect x="166.60" y="162.87" width="169.60" height="5.14" fill="#09130a"/>
<rect x="166.60" y="166.81" width="169.60" height="5.14" fill="#020100"/>
<rect x="166.60" y="170.75" width="169.60" height="5.14" fill="#020100"/>
<rect x="166.60" y="174.70" width="169.60" height="5.14" fill="#220906"/>
<rect x="166.60" y="178.64" width="169.60" height="5.14" fill="#152c17"/>
<rect x="166.60" y="182.58" width="169.60" height="5.14" fill="#220906"/>
<rect x="166.60" y="186.52" width="169.60" height="5.14" fill="#010201"/>
<rect x="166.60" y="190.46" width="169.60" height="5.14" fill="#621b12"/>
<rect x="166.60" y="194.41" width="169.60" height="5.14" fill="#090302"/>
<rect x="166.60" y="198.35" width="169.60" height="5.14" fill="#8c2619"/>
<rect x="166.60" y="202.29" width="169.60" height="5.14" fill="#d53a25"/>
<rect x="166.60" y="206.23" width="169.60" height="5.14" fill="#cc3723"/>
<rect x="166.60" y="210.17" width="169.60" height="5.14" fill="#b53120"/>
<rect x="166.60" y="214.12" width="169.60" height="5.14" fill="#e33e27"/>
<rect x="166.60" y="218.06" width="169.60" height="5.14" fill="#96291b"/>
<rect x="166.60" y="222.00" width="169.60" height="5.14" fill="#da3b25"/>
<rect x="166.60" y="225.94" width="169.60" height="5.14" fill="#ec4028"/>
<rect x="166.60" y="229.88" width="169.60" height="5.14" fill="#d53a25"/>
<rect x="166.60" y="233.83" width="169.60" height="5.14" fill="#b53120"/>
<rect x="166.60" y="237.77" width="169.60" height="5.14" fill="#b53120"/>
<rect x="166.60" y="241.71" width="169.60" height="5.14" fill="#0e0403"/>
<rect x="166.60" y="245.65" width="169.60" height="5.14" fill="#842418"/>
<rect x="166.60" y="249.59" width="169.60" height="5.14" fill="#8c2619"/>
<rect x="166.60" y="253.54" width="169.60" height="5.14" fill="#bf3421"/>
<rect x="166.60" y="257.48" width="169.60" height="5.14" fill="#842418"/>
<rect x="166.60" y="261.42" width="169.60" height="5.14" fill="#8c2619"/>
<rect x="166.60" y="265.36" width="169.60" height="5.14" fill="#2d0c09"/>
<rect x="166.60" y="269.30" width="169.60" height="5.14" fill="#6a1d14"/>
<rect x="166.60" y="273.25" width="169.60" height="5.14" fill="#c83623"/>
<rect x="166.60" y="277.19" width="169.60" height="5.14" fill="#8c2619"/>
<rect x="166.60" y="281.13" width="169.60" height="5.14" fill="#b53120"/>
<rect x="166.60" y="285.07" width="169.60" height="5.14" fill="#050a05"/>
<rect x="166.60" y="289.01" width="169.60" height="5.14" fill="#48130d"/>
<rect x="166.60" y="292.96" width="169.60" height="5.14" fill="#772016"/>
<rect x="166.60" y="296.90" width="169.60" height="5.14" fill="#96291b"/>
<rect x="166.60" y="300.84" width="169.60" height="5.14" fill="#96291b"/>
<rect x="166.60" y="304.78" width="169.60" height="5.14" fill="#6a1d14"/>
<rect x="166.60" y="308.72" width="169.60" height="5.14" fill="#621b12"/>
<rect x="166.60" y="312.67" width="169.60" height="5.14" fill="#772016"/>
<rect x="166.60" y="316.61" width="169.60" height="5.14" fill="#8c2619"/>
<rect x="166.60" y="320.55" width="169.60" height="5.14" fill="#a02b1c"/>
<rect x="166.60" y="324.49" width="169.60" height="5.14" fill="#96291b"/>
<rect x="166.60" y="328.43" width="169.60" height="5.14" fill="#772016"/>
<rect x="166.60" y="332.38" width="169.60" height="5.14" fill="#0e0403"/>
<rect x="166.60" y="336.32" width="169.60" height="5.14" fill="#8c2619"/>
<rect x="166.60" y="340.26" width="169.60" height="5.14" fill="#8c2619"/>
<rect x="166.60" y="344.20" width="169.60" height="5.14" fill="#6f1e14"/>
<rect x="166.60" y="348.14" width="169.60" height="5.14" fill="#7b2116"/>
<rect x="166.60" y="352.09" width="169.60" height="5.14" fill="#4d150e"/>
<rect x="166.60" y="356.03" width="169.60" height="5.14" fill="#772016"/>
<rect x="166.60" y="359.97" width="169.60" height="5.14" fill="#96291b"/>
<rect x="166.60" y="363.91" width="169.60" height="5.14" fill="#120504"/>
<rect x="166.60" y="367.85" width="169.60" height="5.14" fill="#842418"/>
<rect x="166.60" y="371.80" width="169.60" height="5.14" fill="#090302"/>
<rect x="166.60" y="375.74" width="169.60" height="5.14" fill="#2d0c09"/>
<rect x="166.60" y="379.68" width="169.60" height="5.14" fill="#2d0c09"/>
<rect x="166.60" y="383.62" width="169.60" height="5.14" fill="#102112"/>
<rect x="166.60" y="387.56" width="169.60" height="5.14" fill="#000000"/>
<rect x="166.60" y="391.51" width="169.60" height="5.14" fill="#2d0c09"/>
<rect x="166.60" y="395.45" width="169.60" height="5.14" fill="#170604"/>
<rect x="166.60" y="399.39" width="169.60" height="5.14" fill="#0e1c0f"/>
<rect x="166.60" y="403.33" width="169.60" height="5.14" fill="#000000"/>
<rect x="166.60" y="407.27" width="169.60" height="5.14" fill="#842418"/>
<rect x="166.60" y="411.22" width="169.60" height="5.14" fill="#8c2619"/>
<rect x="166.60" y="415.16" width="169.60" height="5.14" fill="#48130d"/>
<rect x="166.60" y="419.10" width="169.60" height="5.14" fill="#842418"/>
<rect x="166.60" y="423.04" width="169.60" height="5.14" fill="#621b12"/>
<rect x="166.60" y="426.98" width="169.60" height="5.14" fill="#3d100b"/>
<rect x="166.60" y="430.93" width="169.60" height="5.14" fill="#220906"/>
<rect x="166.60" y="434.87" width="169.60" height="5.14" fill="#170604"/>
<rect x="166.60" y="438.81" width="169.60" height="5.14" fill="#772016"/>
<rect x="166.60" y="442.75" width="169.60" height="5.14" fill="#8c2619"/>
<rect x="166.60" y="446.69" width="169.60" height="5.14" fill="#842418"/>
<rect x="166.60" y="450.64" width="169.60" height="5.14" fill="#000000"/>
<rect x="166.60" y="454.58" width="169.60" height="5.14" fill="#000000"/>
<rect x="166.60" y="458.52" width="169.60" height="5.14" fill="#22441f"/>
<rect x="166.60" y="462.46" width="169.60" height="5.14" fill="#4d150e"/>
<rect x="166.60" y="466.40" width="169.60" height="5.14" fill="#000000"/>
<rect x="166.60" y="470.35" width="169.60" height="5.14" fill="#000000"/>
<rect x="166.60" y="474.29" width="169.60" height="5.14" fill="#0e0403"/>
<rect x="166.60" y="478.23" width="169.60" height="5.14" fill="#000000"/>
<rect x="166.60" y="482.17" width="169.60" height="5.14" fill="#090302"/>
<rect x="166.60" y="486.11" width="169.60" height="5.14" fill="#4d150e"/>
<rect x="166.60" y="490.06" width="169.60" height="5.14" fill="#000000"/>
<rect x="166.60" y="494.00" width="169.60" height="5.14" fill="#000000"/>
<rect x="166.60" y="497.94" width="169.60" height="5.14" fill="#0e0403"/>
<rect x="166.60" y="501.88" width="169.60" height="5.14" fill="#3d100b"/>
<rect x="166.60" y="505.82" width="169.60" height="5.14" fill="#7b2116"/>
<rect x="166.60" y="509.77" width="169.60" height="5.14" fill="#621b12"/>
<rect x="166.60" y="513.71" width="169.60" height="5.14" fill="#0e0403"/>
<rect x="166.60" y="517.65" width="169.60" height="5.14" fill="#6f1e14"/>
<rect x="166.60" y="521.59" width="169.60" height="5.14" fill="#2d0c09"/>
<rect x="166.60" y="525.53" width="169.60" height="5.14" fill="#010201"/>
<rect x="166.60" y="529.48" width="169.60" height="5.14" fill="#220906"/>
<rect x="166.60" y="533.42" width="169.60" height="5.14" fill="#621b12"/>
<rect x="166.60" y="537.36" width="169.60" height="5.14" fill="#621b12"/>
<rect x="166.60" y="541.30" width="169.60" height="5.14" fill="#102112"/>
<rect x="166.60" y="545.24" width="169.60" height="5.14" fill="#220906"/>
<rect x="208.25" y="24.90" width="127.95" height="5.14" fill="#070e08"/>
<rect x="208.25" y="28.84" width="127.95" height="5.14" fill="#152c17"/>
<rect x="208.25" y="32.78" width="127.95" height="5.14" fill="#152c17"/>
<rect x="208.25" y="36.73" width="127.95" height="5.14" fill="#000000"/>
<rect x="208.25" y="40.67" width="127.95" height="5.14" fill="#000000"/>
<rect x="208.25" y="44.61" width="127.95" height="5.14" fill="#376d2c"/>
<rect x="208.25" y="48.55" width="127.95" height="5.14" fill="#000000"/>
<rect x="208.25" y="52.49" width="127.95" height="5.14" fill="#2d5a26"/>
<rect x="208.25" y="56.44" width="127.95" height="5.14" fill="#418132"/>
<rect x="208.25" y="60.38" width="127.95" height="5.14" fill="#050a05"/>
<rect x="208.25" y="64.32" width="127.95" height="5.14" fill="#220906"/>
<rect x="208.25" y="68.26" width="127.95" height="5.14" fill="#152c17"/>
<rect x="208.25" y="72.20" width="127.95" height="5.14" fill="#22441f"/>
<rect x="208.25" y="76.15" width="127.95" height="5.14" fill="#22441f"/>
<rect x="208.25" y="80.09" width="127.95" height="5.14" fill="#316229"/>
<rect x="208.25" y="84.03" width="127.95" height="5.14" fill="#000000"/>
<rect x="208.25" y="87.97" width="127.95" height="5.14" fill="#152c17"/>
<rect x="208.25" y="91.91" width="127.95" height="5.14" fill="#285124"/>
<rect x="208.25" y="95.86" width="127.95" height="5.14" fill="#1a351a"/>
<rect x="208.25" y="99.80" width="127.95" height="5.14" fill="#2d0c09"/>
<rect x="208.25" y="103.74" width="127.95" height="5.14" fill="#0b170d"/>
<rect x="208.25" y="107.68" width="127.95" height="5.14" fill="#000000"/>
<rect x="208.25" y="111.62" width="127.95" height="5.14" fill="#152c17"/>
<rect x="208.25" y="115.57" width="127.95" height="5.14" fill="#285124"/>
<rect x="208.25" y="119.51" width="127.95" height="5.14" fill="#220906"/>
<rect x="208.25" y="123.45" width="127.95" height="5.14" fill="#22441f"/>
<rect x="208.25" y="127.39" width="127.95" height="5.14" fill="#376d2c"/>
<rect x="208.25" y="131.33" width="127.95" height="5.14" fill="#22441f"/>
<rect x="208.25" y="135.28" width="127.95" height="5.14" fill="#316229"/>
<rect x="208.25" y="139.22" width="127.95" height="5.14" fill="#152c17"/>
<rect x="208.25" y="143.16" width="127.95" height="5.14" fill="#2d5a26"/>
<rect x="208.25" y="147.10" width="127.95" height="5.14" fill="#316229"/>
<rect x="208.25" y="151.04" width="127.95" height="5.14" fill="#090302"/>
<rect x="208.25" y="154.99" width="127.95" height="5.14" fill="#376d2c"/>
<rect x="208.25" y="158.93" width="127.95" height="5.14" fill="#285124"/>
<rect x="208.25" y="162.87" width="127.95" height="5.14" fill="#3d7930"/>
<rect x="208.25" y="166.81" width="127.95" height="5.14" fill="#316229"/>
<rect x="208.25" y="170.75" width="127.95" height="5.14" fill="#152c17"/>
<rect x="208.25" y="174.70" width="127.95" height="5.14" fill="#0b170d"/>
<rect x="208.25" y="178.64" width="127.95" height="5.14" fill="#102112"/>
<rect x="208.25" y="182.58" width="127.95" height="5.14" fill="#270b07"/>
<rect x="208.25" y="186.52" width="127.95" height="5.14" fill="#2d5a26"/>
<rect x="208.25" y="190.46" width="127.95" height="5.14" fill="#000000"/>
<rect x="208.25" y="194.41" width="127.95" height="5.14" fill="#316229"/>
<rect x="208.25" y="198.35" width="127.95" height="5.14" fill="#000000"/>
<rect x="208.25" y="202.29" width="127.95" height="5.14" fill="#102112"/>
<rect x="208.25" y="206.23" width="127.95" height="5.14" fill="#102112"/>
<rect x="208.25" y="210.17" width="127.95" height="5.14" fill="#285124"/>
<rect x="208.25" y="214.12" width="127.95" height="5.14" fill="#000000"/>
<rect x="208.25" y="218.06" width="127.95" height="5.14" fill="#2d5a26"/>
<rect x="208.25" y="222.00" width="127.95" height="5.14" fill="#000000"/>
<rect x="208.25" y="225.94" width="127.95" height="5.14" fill="#070e08"/>
<rect x="208.25" y="229.88" width="127.95" height="5.14" fill="#0e1c0f"/>
<rect x="208.25" y="233.83" width="127.95" height="5.14" fill="#170604"/>
<rect x="208.25" y="237.77" width="127.95" height="5.14" fill="#102112"/>
<rect x="208.25" y="241.71" width="127.95" height="5.14" fill="#270b07"/>
<rect x="208.25" y="245.65" width="127.95" height="5.14" fill="#132615"/>
<rect x="208.25" y="249.59" width="127.95" height="5.14" fill="#621b12"/>
<rect x="208.25" y="253.54" width="127.95" height="5.14" fill="#0e0403"/>
<rect x="208.25" y="257.48" width="127.95" height="5.14" fill="#000000"/>
<rect x="208.25" y="261.42" width="127.95" height="5.14" fill="#090302"/>
<rect x="208.25" y="265.36" width="127.95" height="5.14" fill="#132615"/>
<rect x="208.25" y="269.30" width="127.95" height="5.14" fill="#6a1d14"/>
<rect x="208.25" y="273.25" width="127.95" height="5.14" fill="#000000"/>
<rect x="208.25" y="277.19" width="127.95" height="5.14" fill="#152c17"/>
<rect x="208.25" y="281.13" width="127.95" height="5.14" fill="#030603"/>
<rect x="208.25" y="285.07" width="127.95" height="5.14" fill="#621b12"/>
<rect x="208.25" y="289.01" width="127.95" height="5.14" fill="#070e08"/>
<rect x="208.25" y="292.96" width="127.95" height="5.14" fill="#090302"/>
<rect x="208.25" y="296.90" width="127.95" height="5.14" fill="#000000"/>
<rect x="208.25" y="300.84" width="127.95" height="5.14" fill="#000000"/>
<rect x="208.25" y="304.78" width="127.95" height="5.14" fill="#000000"/>
<rect x="208.25" y="308.72" width="127.95" height="5.14" fill="#370f0a"/>
<rect x="208.25" y="312.67" width="127.95" height="5.14" fill="#060201"/>
<rect x="208.25" y="316.61" width="127.95" height="5.14" fill="#571810"/>
<rect x="208.25" y="320.55" width="127.95" height="5.14" fill="#2d0c09"/>
<rect x="208.25" y="324.49" width="127.95" height="5.14" fill="#2d0c09"/>
<rect x="208.25" y="328.43" width="127.95" height="5.14" fill="#2d0c09"/>
<rect x="208.25" y="332.38" width="127.95" height="5.14" fill="#270b07"/>
<rect x="208.25" y="336.32" width="127.95" height="5.14" fill="#090302"/>
<rect x="208.25" y="340.26" width="127.95" height="5.14" fill="#090302"/>
<rect x="208.25" y="344.20" width="127.95" height="5.14" fill="#090302"/>
<rect x="208.25" y="348.14" width="127.95" height="5.14" fill="#220906"/>
<rect x="208.25" y="352.09" width="127.95" height="5.14" fill="#020100"/>
<rect x="208.25" y="356.03" width="127.95" height="5.14" fill="#120504"/>
<rect x="208.25" y="359.97" width="127.95" height="5.14" fill="#120504"/>
<rect x="208.25" y="363.91" width="127.95" height="5.14" fill="#96291b"/>
<rect x="208.25" y="367.85" width="127.95" height="5.14" fill="#000000"/>
<rect x="208.25" y="371.80" width="127.95" height="5.14" fill="#070e08"/>
<rect x="208.25" y="375.74" width="127.95" height="5.14" fill="#090302"/>
<rect x="208.25" y="379.68" width="127.95" height="5.14" fill="#090302"/>
<rect x="208.25" y="383.62" width="127.95" height="5.14" fill="#96291b"/>
<rect x="208.25" y="387.56" width="127.95" height="5.14" fill="#152c17"/>
<rect x="208.25" y="391.51" width="127.95" height="5.14" fill="#000000"/>
<rect x="208.25" y="395.45" width="127.95" height="5.14" fill="#102112"/>
<rect x="208.25" y="399.39" width="127.95" height="5.14" fill="#000000"/>
<rect x="208.25" y="403.33" width="127.95" height="5.14" fill="#2d5a26"/>
<rect x="208.25" y="407.27" width="127.95" height="5.14" fill="#2d5a26"/>
<rect x="208.25" y="411.22" width="127.95" height="5.14" fill="#152c17"/>
<rect x="208.25" y="415.16" width="127.95" height="5.14" fill="#376d2c"/>
<rect x="208.25" y="419.10" width="127.95" height="5.14" fill="#33662a"/>
<rect x="208.25" y="423.04" width="127.95" height="5.14" fill="#152c17"/>
<rect x="208.25" y="426.98" width="127.95" height="5.14" fill="#000000"/>
<rect x="208.25" y="430.93" width="127.95" height="5.14" fill="#050a05"/>
<rect x="208.25" y="434.87" width="127.95" height="5.14" fill="#102112"/>
<rect x="208.25" y="438.81" width="127.95" height="5.14" fill="#1d3a1c"/>
<rect x="208.25" y="442.75" width="127.95" height="5.14" fill="#000000"/>
<rect x="208.25" y="446.69" width="127.95" height="5.14" fill="#1d3a1c"/>
<rect x="208.25" y="450.64" width="127.95" height="5.14" fill="#1a351a"/>
<rect x="208.25" y="454.58" width="127.95" height="5.14" fill="#010201"/>
<rect x="208.25" y="458.52" width="127.95" height="5.14" fill="#000000"/>
<rect x="208.25" y="462.46" width="127.95" height="5.14" fill="#842418"/>
<rect x="208.25" y="466.40" width="127.95" height="5.14" fill="#0e1c0f"/>
<rect x="208.25" y="470.35" width="127.95" height="5.14" fill="#000000"/>
<rect x="208.25" y="474.29" width="127.95" height="5.14" fill="#000000"/>
<rect x="208.25" y="478.23" width="127.95" height="5.14" fill="#621b12"/>
<rect x="208.25" y="482.17" width="127.95" height="5.14" fill="#152c17"/>
<rect x="208.25" y="486.11" width="127.95" height="5.14" fill="#152c17"/>
<rect x="208.25" y="490.06" width="127.95" height="5.14" fill="#842418"/>
<rect x="208.25" y="494.00" width="127.95" height="5.14" fill="#000000"/>
<rect x="208.25" y="497.94" width="127.95" height="5.14" fill="#090302"/>
<rect x="208.25" y="501.88" width="127.95" height="5.14" fill="#102112"/>
<rect x="208.25" y="505.82" width="127.95" height="5.14" fill="#000000"/>
<rect x="208.25" y="509.77" width="127.95" height="5.14" fill="#1a351a"/>
<rect x="208.25" y="513.71" width="127.95" height="5.14" fill="#376d2c"/>
<rect x="208.25" y="517.65" width="127.95" height="5.14" fill="#316229"/>
<rect x="208.25" y="521.59" width="127.95" height="5.14" fill="#102112"/>
<rect x="208.25" y="525.53" width="127.95" height="5.14" fill="#000000"/>
<rect x="208.25" y="529.48" width="127.95" height="5.14" fill="#1d3a1c"/>
<rect x="208.25" y="533.42" width="127.95" height="5.14" fill="#000000"/>
<rect x="208.25" y="537.36" width="127.95" height="5.14" fill="#090302"/>
<rect x="208.25" y="541.30" width="127.95" height="5.14" fill="#22441f"/>
<rect x="208.25" y="545.24" width="127.95" height="5.14" fill="#090302"/>
<rect x="249.90" y="24.90" width="86.30" height="5.14" fill="#081009"/>
<rect x="249.90" y="28.84" width="86.30" height="5.14" fill="#000000"/>
<rect x="249.90" y="32.78" width="86.30" height="5.14" fill="#102112"/>
<rect x="249.90" y="36.73" width="86.30" height="5.14" fill="#000000"/>
<rect x="249.90" y="40.67" width="86.30" height="5.14" fill="#000000"/>
<rect x="249.90" y="44.61" width="86.30" height="5.14" fill="#000000"/>
<rect x="249.90" y="48.55" width="86.30" height="5.14" fill="#000000"/>
<rect x="249.90" y="52.49" width="86.30" height="5.14" fill="#000000"/>
<rect x="249.90" y="56.44" width="86.30" height="5.14" fill="#6a1d14"/>
<rect x="249.90" y="60.38" width="86.30" height="5.14" fill="#611a12"/>
<rect x="249.90" y="64.32" width="86.30" height="5.14" fill="#260a07"/>
<rect x="249.90" y="68.26" width="86.30" height="5.14" fill="#c43522"/>
<rect x="249.90" y="72.20" width="86.30" height="5.14" fill="#376d2c"/>
<rect x="249.90" y="76.15" width="86.30" height="5.14" fill="#376d2c"/>
<rect x="249.90" y="80.09" width="86.30" height="5.14" fill="#2e5c27"/>
<rect x="249.90" y="84.03" width="86.30" height="5.14" fill="#3e7a30"/>
<rect x="249.90" y="87.97" width="86.30" height="5.14" fill="#1e3d1d"/>
<rect x="249.90" y="91.91" width="86.30" height="5.14" fill="#0b160c"/>
<rect x="249.90" y="95.86" width="86.30" height="5.14" fill="#499036"/>
<rect x="249.90" y="99.80" width="86.30" height="5.14" fill="#60b940"/>
<rect x="249.90" y="103.74" width="86.30" height="5.14" fill="#326429"/>
<rect x="249.90" y="107.68" width="86.30" height="5.14" fill="#376d2c"/>
<rect x="249.90" y="111.62" width="86.30" height="5.14" fill="#030704"/>
<rect x="249.90" y="115.57" width="86.30" height="5.14" fill="#458834"/>
<rect x="249.90" y="119.51" width="86.30" height="5.14" fill="#39712d"/>
<rect x="249.90" y="123.45" width="86.30" height="5.14" fill="#326429"/>
<rect x="249.90" y="127.39" width="86.30" height="5.14" fill="#193219"/>
<rect x="249.90" y="131.33" width="86.30" height="5.14" fill="#3e7a30"/>
<rect x="249.90" y="135.28" width="86.30" height="5.14" fill="#295224"/>
<rect x="249.90" y="139.22" width="86.30" height="5.14" fill="#193219"/>
<rect x="249.90" y="143.16" width="86.30" height="5.14" fill="#000000"/>
<rect x="249.90" y="147.10" width="86.30" height="5.14" fill="#000000"/>
<rect x="249.90" y="151.04" width="86.30" height="5.14" fill="#100403"/>
<rect x="249.90" y="154.99" width="86.30" height="5.14" fill="#000000"/>
<rect x="249.90" y="158.93" width="86.30" height="5.14" fill="#132715"/>
<rect x="249.90" y="162.87" width="86.30" height="5.14" fill="#3e110c"/>
<rect x="249.90" y="166.81" width="86.30" height="5.14" fill="#260a07"/>
<rect x="249.90" y="170.75" width="86.30" height="5.14" fill="#3e110c"/>
<rect x="249.90" y="174.70" width="86.30" height="5.14" fill="#3e110c"/>
<rect x="249.90" y="178.64" width="86.30" height="5.14" fill="#812317"/>
<rect x="249.90" y="182.58" width="86.30" height="5.14" fill="#320e0a"/>
<rect x="249.90" y="186.52" width="86.30" height="5.14" fill="#782116"/>
<rect x="249.90" y="190.46" width="86.30" height="5.14" fill="#782116"/>
<rect x="249.90" y="194.41" width="86.30" height="5.14" fill="#1e3d1d"/>
<rect x="249.90" y="198.35" width="86.30" height="5.14" fill="#1e3d1d"/>
<rect x="249.90" y="202.29" width="86.30" height="5.14" fill="#0d1b0f"/>
<rect x="249.90" y="206.23" width="86.30" height="5.14" fill="#000000"/>
<rect x="249.90" y="210.17" width="86.30" height="5.14" fill="#295224"/>
<rect x="249.90" y="214.12" width="86.30" height="5.14" fill="#0b160c"/>
<rect x="249.90" y="218.06" width="86.30" height="5.14" fill="#21431f"/>
<rect x="249.90" y="222.00" width="86.30" height="5.14" fill="#000000"/>
<rect x="249.90" y="225.94" width="86.30" height="5.14" fill="#081009"/>
<rect x="249.90" y="229.88" width="86.30" height="5.14" fill="#0d1b0f"/>
<rect x="249.90" y="233.83" width="86.30" height="5.14" fill="#050b06"/>
<rect x="249.90" y="237.77" width="86.30" height="5.14" fill="#050b06"/>
<rect x="249.90" y="241.71" width="86.30" height="5.14" fill="#4f160f"/>
<rect x="249.90" y="245.65" width="86.30" height="5.14" fill="#000000"/>
<rect x="249.90" y="249.59" width="86.30" height="5.14" fill="#030100"/>
<rect x="249.90" y="253.54" width="86.30" height="5.14" fill="#030100"/>
<rect x="249.90" y="257.48" width="86.30" height="5.14" fill="#3e110c"/>
<rect x="249.90" y="261.42" width="86.30" height="5.14" fill="#000000"/>
<rect x="249.90" y="265.36" width="86.30" height="5.14" fill="#d83b25"/>
<rect x="249.90" y="269.30" width="86.30" height="5.14" fill="#3e110c"/>
<rect x="249.90" y="273.25" width="86.30" height="5.14" fill="#320e0a"/>
<rect x="249.90" y="277.19" width="86.30" height="5.14" fill="#812317"/>
<rect x="249.90" y="281.13" width="86.30" height="5.14" fill="#000000"/>
<rect x="249.90" y="285.07" width="86.30" height="5.14" fill="#100403"/>
<rect x="249.90" y="289.01" width="86.30" height="5.14" fill="#320e0a"/>
<rect x="249.90" y="292.96" width="86.30" height="5.14" fill="#260a07"/>
<rect x="249.90" y="296.90" width="86.30" height="5.14" fill="#6a1d14"/>
<rect x="249.90" y="300.84" width="86.30" height="5.14" fill="#2d0c08"/>
<rect x="249.90" y="304.78" width="86.30" height="5.14" fill="#000000"/>
<rect x="249.90" y="308.72" width="86.30" height="5.14" fill="#782116"/>
<rect x="249.90" y="312.67" width="86.30" height="5.14" fill="#102112"/>
<rect x="249.90" y="316.61" width="86.30" height="5.14" fill="#050b06"/>
<rect x="249.90" y="320.55" width="86.30" height="5.14" fill="#000000"/>
<rect x="249.90" y="324.49" width="86.30" height="5.14" fill="#132715"/>
<rect x="249.90" y="328.43" width="86.30" height="5.14" fill="#499036"/>
<rect x="249.90" y="332.38" width="86.30" height="5.14" fill="#0b0302"/>
<rect x="249.90" y="336.32" width="86.30" height="5.14" fill="#193219"/>
<rect x="249.90" y="340.26" width="86.30" height="5.14" fill="#0b0302"/>
<rect x="249.90" y="344.20" width="86.30" height="5.14" fill="#2e5c27"/>
<rect x="249.90" y="348.14" width="86.30" height="5.14" fill="#050b06"/>
<rect x="249.90" y="352.09" width="86.30" height="5.14" fill="#000000"/>
<rect x="249.90" y="356.03" width="86.30" height="5.14" fill="#193219"/>
<rect x="249.90" y="359.97" width="86.30" height="5.14" fill="#193219"/>
<rect x="249.90" y="363.91" width="86.30" height="5.14" fill="#326429"/>
<rect x="249.90" y="367.85" width="86.30" height="5.14" fill="#21431f"/>
<rect x="249.90" y="371.80" width="86.30" height="5.14" fill="#3e7a30"/>
<rect x="249.90" y="375.74" width="86.30" height="5.14" fill="#0b0302"/>
<rect x="249.90" y="379.68" width="86.30" height="5.14" fill="#102112"/>
<rect x="249.90" y="383.62" width="86.30" height="5.14" fill="#260a07"/>
<rect x="249.90" y="387.56" width="86.30" height="5.14" fill="#611a12"/>
<rect x="249.90" y="391.51" width="86.30" height="5.14" fill="#611a12"/>
<rect x="249.90" y="395.45" width="86.30" height="5.14" fill="#3e7a30"/>
<rect x="249.90" y="399.39" width="86.30" height="5.14" fill="#407f31"/>
<rect x="249.90" y="403.33" width="86.30" height="5.14" fill="#264d22"/>
<rect x="249.90" y="407.27" width="86.30" height="5.14" fill="#264d22"/>
<rect x="249.90" y="411.22" width="86.30" height="5.14" fill="#21431f"/>
<rect x="249.90" y="415.16" width="86.30" height="5.14" fill="#000000"/>
<rect x="249.90" y="419.10" width="86.30" height="5.14" fill="#000000"/>
<rect x="249.90" y="423.04" width="86.30" height="5.14" fill="#150604"/>
<rect x="249.90" y="426.98" width="86.30" height="5.14" fill="#0b0302"/>
<rect x="249.90" y="430.93" width="86.30" height="5.14" fill="#260a07"/>
<rect x="249.90" y="434.87" width="86.30" height="5.14" fill="#150604"/>
<rect x="249.90" y="438.81" width="86.30" height="5.14" fill="#193219"/>
<rect x="249.90" y="442.75" width="86.30" height="5.14" fill="#132715"/>
<rect x="249.90" y="446.69" width="86.30" height="5.14" fill="#162d17"/>
<rect x="249.90" y="450.64" width="86.30" height="5.14" fill="#132715"/>
<rect x="249.90" y="454.58" width="86.30" height="5.14" fill="#193219"/>
<rect x="249.90" y="458.52" width="86.30" height="5.14" fill="#1e3d1d"/>
<rect x="249.90" y="462.46" width="86.30" height="5.14" fill="#193219"/>
<rect x="249.90" y="466.40" width="86.30" height="5.14" fill="#060201"/>
<rect x="249.90" y="470.35" width="86.30" height="5.14" fill="#060201"/>
<rect x="249.90" y="474.29" width="86.30" height="5.14" fill="#2e5c27"/>
<rect x="249.90" y="478.23" width="86.30" height="5.14" fill="#295224"/>
<rect x="249.90" y="482.17" width="86.30" height="5.14" fill="#326429"/>
<rect x="249.90" y="486.11" width="86.30" height="5.14" fill="#2e5c27"/>
<rect x="249.90" y="490.06" width="86.30" height="5.14" fill="#264d22"/>
<rect x="249.90" y="494.00" width="86.30" height="5.14" fill="#2e5c27"/>
<rect x="249.90" y="497.94" width="86.30" height="5.14" fill="#2e5c27"/>
<rect x="249.90" y="501.88" width="86.30" height="5.14" fill="#2e5c27"/>
<rect x="249.90" y="505.82" width="86.30" height="5.14" fill="#010302"/>
<rect x="249.90" y="509.77" width="86.30" height="5.14" fill="#2e5c27"/>
<rect x="249.90" y="513.71" width="86.30" height="5.14" fill="#193219"/>
<rect x="249.90" y="517.65" width="86.30" height="5.14" fill="#2e5c27"/>
<rect x="249.90" y="521.59" width="86.30" height="5.14" fill="#2e5c27"/>
<rect x="249.90" y="525.53" width="86.30" height="5.14" fill="#3e7a30"/>
<rect x="249.90" y="529.48" width="86.30" height="5.14" fill="#2e5c27"/>
<rect x="249.90" y="533.42" width="86.30" height="5.14" fill="#499036"/>
<rect x="249.90" y="537.36" width="86.30" height="5.14" fill="#193219"/>
<rect x="249.90" y="541.30" width="86.30" height="5.14" fill="#8f271a"/>
<rect x="249.90" y="545.24" width="86.30" height="5.14" fill="#0b0302"/>
<rect x="291.55" y="24.90" width="44.65" height="5.14" fill="#081009"/>
<rect x="291.55" y="28.84" width="44.65" height="5.14" fill="#d83b25"/>
<rect x="291.55" y="32.78" width="44.65" height="5.14" fill="#d83b25"/>
<rect x="291.55" y="36.73" width="44.65" height="5.14" fill="#d03824"/>
<rect x="291.55" y="40.67" width="44.65" height="5.14" fill="#cc3723"/>
<rect x="291.55" y="44.61" width="44.65" height="5.14" fill="#bc3321"/>
<rect x="291.55" y="48.55" width="44.65" height="5.14" fill="#ae2f1f"/>
<rect x="291.55" y="52.49" width="44.65" height="5.14" fill="#ae2f1f"/>
<rect x="291.55" y="56.44" width="44.65" height="5.14" fill="#bc3321"/>
<rect x="291.55" y="60.38" width="44.65" height="5.14" fill="#c43522"/>
<rect x="291.55" y="64.32" width="44.65" height="5.14" fill="#c43522"/>
<rect x="291.55" y="68.26" width="44.65" height="5.14" fill="#260a07"/>
<rect x="291.55" y="72.20" width="44.65" height="5.14" fill="#193219"/>
<rect x="291.55" y="76.15" width="44.65" height="5.14" fill="#193219"/>
<rect x="291.55" y="80.09" width="44.65" height="5.14" fill="#264d22"/>
<rect x="291.55" y="84.03" width="44.65" height="5.14" fill="#264d22"/>
<rect x="291.55" y="87.97" width="44.65" height="5.14" fill="#326429"/>
<rect x="291.55" y="91.91" width="44.65" height="5.14" fill="#132715"/>
<rect x="291.55" y="95.86" width="44.65" height="5.14" fill="#010302"/>
<rect x="291.55" y="99.80" width="44.65" height="5.14" fill="#200906"/>
<rect x="291.55" y="103.74" width="44.65" height="5.14" fill="#1e3d1d"/>
<rect x="291.55" y="107.68" width="44.65" height="5.14" fill="#1e3d1d"/>
<rect x="291.55" y="111.62" width="44.65" height="5.14" fill="#1e3d1d"/>
<rect x="291.55" y="115.57" width="44.65" height="5.14" fill="#193219"/>
<rect x="291.55" y="119.51" width="44.65" height="5.14" fill="#2e5c27"/>
<rect x="291.55" y="123.45" width="44.65" height="5.14" fill="#2e5c27"/>
<rect x="291.55" y="127.39" width="44.65" height="5.14" fill="#326429"/>
<rect x="291.55" y="131.33" width="44.65" height="5.14" fill="#1e3d1d"/>
<rect x="291.55" y="135.28" width="44.65" height="5.14" fill="#295224"/>
<rect x="291.55" y="139.22" width="44.65" height="5.14" fill="#1e3d1d"/>
<rect x="291.55" y="143.16" width="44.65" height="5.14" fill="#132715"/>
<rect x="291.55" y="147.10" width="44.65" height="5.14" fill="#326429"/>
<rect x="291.55" y="151.04" width="44.65" height="5.14" fill="#499036"/>
<rect x="291.55" y="154.99" width="44.65" height="5.14" fill="#000000"/>
<rect x="291.55" y="158.93" width="44.65" height="5.14" fill="#000000"/>
<rect x="291.55" y="162.87" width="44.65" height="5.14" fill="#100403"/>
<rect x="291.55" y="166.81" width="44.65" height="5.14" fill="#132715"/>
<rect x="291.55" y="170.75" width="44.65" height="5.14" fill="#376d2c"/>
<rect x="291.55" y="174.70" width="44.65" height="5.14" fill="#4e9838"/>
<rect x="291.55" y="178.64" width="44.65" height="5.14" fill="#081009"/>
<rect x="291.55" y="182.58" width="44.65" height="5.14" fill="#4e9838"/>
<rect x="291.55" y="186.52" width="44.65" height="5.14" fill="#264d22"/>
<rect x="291.55" y="190.46" width="44.65" height="5.14" fill="#3e7a30"/>
<rect x="291.55" y="194.41" width="44.65" height="5.14" fill="#a12c1d"/>
<rect x="291.55" y="198.35" width="44.65" height="5.14" fill="#3e110c"/>
<rect x="291.55" y="202.29" width="44.65" height="5.14" fill="#0d1b0f"/>
<rect x="291.55" y="206.23" width="44.65" height="5.14" fill="#050b06"/>
<rect x="291.55" y="210.17" width="44.65" height="5.14" fill="#060201"/>
<rect x="291.55" y="214.12" width="44.65" height="5.14" fill="#081009"/>
<rect x="291.55" y="218.06" width="44.65" height="5.14" fill="#000000"/>
<rect x="291.55" y="222.00" width="44.65" height="5.14" fill="#000000"/>
<rect x="291.55" y="225.94" width="44.65" height="5.14" fill="#081009"/>
<rect x="291.55" y="229.88" width="44.65" height="5.14" fill="#0d1b0f"/>
<rect x="291.55" y="233.83" width="44.65" height="5.14" fill="#1e3d1d"/>
<rect x="291.55" y="237.77" width="44.65" height="5.14" fill="#1e3d1d"/>
<rect x="291.55" y="241.71" width="44.65" height="5.14" fill="#320e0a"/>
<rect x="291.55" y="245.65" width="44.65" height="5.14" fill="#100403"/>
<rect x="291.55" y="249.59" width="44.65" height="5.14" fill="#0d1b0f"/>
<rect x="291.55" y="253.54" width="44.65" height="5.14" fill="#050b06"/>
<rect x="291.55" y="257.48" width="44.65" height="5.14" fill="#0b160c"/>
<rect x="291.55" y="261.42" width="44.65" height="5.14" fill="#326429"/>
<rect x="291.55" y="265.36" width="44.65" height="5.14" fill="#0b160c"/>
<rect x="291.55" y="269.30" width="44.65" height="5.14" fill="#1e3d1d"/>
<rect x="291.55" y="273.25" width="44.65" height="5.14" fill="#193219"/>
<rect x="291.55" y="277.19" width="44.65" height="5.14" fill="#081009"/>
<rect x="291.55" y="281.13" width="44.65" height="5.14" fill="#102112"/>
<rect x="291.55" y="285.07" width="44.65" height="5.14" fill="#193219"/>
<rect x="291.55" y="289.01" width="44.65" height="5.14" fill="#000000"/>
<rect x="291.55" y="292.96" width="44.65" height="5.14" fill="#0d1b0f"/>
<rect x="291.55" y="296.90" width="44.65" height="5.14" fill="#0d1b0f"/>
<rect x="291.55" y="300.84" width="44.65" height="5.14" fill="#0d1b0f"/>
<rect x="291.55" y="304.78" width="44.65" height="5.14" fill="#000000"/>
<rect x="291.55" y="308.72" width="44.65" height="5.14" fill="#3e7a30"/>
<rect x="291.55" y="312.67" width="44.65" height="5.14" fill="#320e0a"/>
<rect x="291.55" y="316.61" width="44.65" height="5.14" fill="#000000"/>
<rect x="291.55" y="320.55" width="44.65" height="5.14" fill="#000000"/>
<rect x="291.55" y="324.49" width="44.65" height="5.14" fill="#0b0302"/>
<rect x="291.55" y="328.43" width="44.65" height="5.14" fill="#000000"/>
<rect x="291.55" y="332.38" width="44.65" height="5.14" fill="#3d100b"/>
<rect x="291.55" y="336.32" width="44.65" height="5.14" fill="#3d100b"/>
<rect x="291.55" y="340.26" width="44.65" height="5.14" fill="#000000"/>
<rect x="291.55" y="344.20" width="44.65" height="5.14" fill="#350e0a"/>
<rect x="291.55" y="348.14" width="44.65" height="5.14" fill="#4c150e"/>
<rect x="291.55" y="352.09" width="44.65" height="5.14" fill="#000000"/>
<rect x="291.55" y="356.03" width="44.65" height="5.14" fill="#571810"/>
<rect x="291.55" y="359.97" width="44.65" height="5.14" fill="#4c150e"/>
<rect x="291.55" y="363.91" width="44.65" height="5.14" fill="#44130d"/>
<rect x="291.55" y="367.85" width="44.65" height="5.14" fill="#010000"/>
<rect x="291.55" y="371.80" width="44.65" height="5.14" fill="#571810"/>
<rect x="291.55" y="375.74" width="44.65" height="5.14" fill="#1a0705"/>
<rect x="291.55" y="379.68" width="44.65" height="5.14" fill="#100403"/>
<rect x="291.55" y="383.62" width="44.65" height="5.14" fill="#000000"/>
<rect x="291.55" y="387.56" width="44.65" height="5.14" fill="#000000"/>
<rect x="291.55" y="391.51" width="44.65" height="5.14" fill="#3e110c"/>
<rect x="291.55" y="395.45" width="44.65" height="5.14" fill="#2e5c27"/>
<rect x="291.55" y="399.39" width="44.65" height="5.14" fill="#2e5c27"/>
<rect x="291.55" y="403.33" width="44.65" height="5.14" fill="#2e5c27"/>
<rect x="291.55" y="407.27" width="44.65" height="5.14" fill="#000000"/>
<rect x="291.55" y="411.22" width="44.65" height="5.14" fill="#081009"/>
<rect x="291.55" y="415.16" width="44.65" height="5.14" fill="#2e5c27"/>
<rect x="291.55" y="419.10" width="44.65" height="5.14" fill="#21431f"/>
<rect x="291.55" y="423.04" width="44.65" height="5.14" fill="#21431f"/>
<rect x="291.55" y="426.98" width="44.65" height="5.14" fill="#21431f"/>
<rect x="291.55" y="430.93" width="44.65" height="5.14" fill="#499036"/>
<rect x="291.55" y="434.87" width="44.65" height="5.14" fill="#000000"/>
<rect x="291.55" y="438.81" width="44.65" height="5.14" fill="#326429"/>
<rect x="291.55" y="442.75" width="44.65" height="5.14" fill="#326429"/>
<rect x="291.55" y="446.69" width="44.65" height="5.14" fill="#000000"/>
<rect x="291.55" y="450.64" width="44.65" height="5.14" fill="#0b160c"/>
<rect x="291.55" y="454.58" width="44.65" height="5.14" fill="#193219"/>
<rect x="291.55" y="458.52" width="44.65" height="5.14" fill="#1e3d1d"/>
<rect x="291.55" y="462.46" width="44.65" height="5.14" fill="#1e3d1d"/>
<rect x="291.55" y="466.40" width="44.65" height="5.14" fill="#3e7a30"/>
<rect x="291.55" y="470.35" width="44.65" height="5.14" fill="#3e7a30"/>
<rect x="291.55" y="474.29" width="44.65" height="5.14" fill="#326429"/>
<rect x="291.55" y="478.23" width="44.65" height="5.14" fill="#0d1b0f"/>
<rect x="291.55" y="482.17" width="44.65" height="5.14" fill="#2e5c27"/>
<rect x="291.55" y="486.11" width="44.65" height="5.14" fill="#000000"/>
<rect x="291.55" y="490.06" width="44.65" height="5.14" fill="#081009"/>
<rect x="291.55" y="494.00" width="44.65" height="5.14" fill="#264d22"/>
<rect x="291.55" y="497.94" width="44.65" height="5.14" fill="#326429"/>
<rect x="291.55" y="501.88" width="44.65" height="5.14" fill="#010302"/>
<rect x="291.55" y="505.82" width="44.65" height="5.14" fill="#499036"/>
<rect x="291.55" y="509.77" width="44.65" height="5.14" fill="#326429"/>
<rect x="291.55" y="513.71" width="44.65" height="5.14" fill="#264d22"/>
<rect x="291.55" y="517.65" width="44.65" height="5.14" fill="#2e5c27"/>
<rect x="291.55" y="521.59" width="44.65" height="5.14" fill="#39712d"/>
<rect x="291.55" y="525.53" width="44.65" height="5.14" fill="#2e5c27"/>
<rect x="291.55" y="529.48" width="44.65" height="5.14" fill="#21431f"/>
<rect x="291.55" y="533.42" width="44.65" height="5.14" fill="#21431f"/>
<rect x="291.55" y="537.36" width="44.65" height="5.14" fill="#2e5c27"/>
<rect x="291.55" y="541.30" width="44.65" height="5.14" fill="#326429"/>
<rect x="291.55" y="545.24" width="44.65" height="5.14" fill="#54a43b"/>
</g></g>
<rect x="0" y="73.45" width="333.5" height="1.9" fill="#fff"/>
<rect x="0" y="193.15" width="333.5" height="1.9" fill="#fff"/>
<rect x="0" y="395.05" width="333.5" height="1.9" fill="#fff"/>
<rect x="363.7" y="48.7" width="15.6" height="472.5" fill="url(#cb)" stroke="#000" stroke-width="1.6"/>
<line x1="380" y1="96.40" x2="388.7" y2="96.40" stroke="#000" stroke-width="1.6"/>
<text x="396.2" y="101.3" font-size="13.4" stroke="#000" stroke-width="0.35">2</text>
<line x1="380" y1="191.35" x2="388.7" y2="191.35" stroke="#000" stroke-width="1.6"/>
<text x="396.2" y="196.3" font-size="13.4" stroke="#000" stroke-width="0.35">1</text>
<line x1="380" y1="286.75" x2="388.7" y2="286.75" stroke="#000" stroke-width="1.6"/>
<text x="396.2" y="291.7" font-size="13.4" stroke="#000" stroke-width="0.35">0</text>
<line x1="380" y1="381.95" x2="388.7" y2="381.95" stroke="#000" stroke-width="1.6"/>
<text x="396.2" y="386.9" font-size="13.4" stroke="#000" stroke-width="0.35">-1</text>
<line x1="380" y1="477.05" x2="388.7" y2="477.05" stroke="#000" stroke-width="1.6"/>
<text x="396.2" y="482.0" font-size="13.4" stroke="#000" stroke-width="0.35">-2</text>
<text transform="translate(159.9,18.3) scale(0.9,1)" font-size="26" font-weight="bold" text-anchor="middle">a</text>
<text x="591.8" y="18.5" font-size="26" font-weight="bold" text-anchor="middle">b</text>
<g>
<polyline points="504.2,80.9 529.8,75.1 555.5,60.2 581.1,53.0 606.8,63.7 632.4,85.1 658.0,83.3 683.7,90.7" fill="none" stroke="#6dc44c" stroke-width="2.2" stroke-linejoin="round" stroke-linecap="square"/>
<polyline points="504.2,82.2 529.8,80.1 555.5,53.3 581.1,64.3 606.8,70.8 632.4,82.9 658.0,68.5 683.7,76.9" fill="none" stroke="#6dc44c" stroke-width="2.2" stroke-linejoin="round" stroke-linecap="square"/>
<polyline points="504.2,72.8 529.8,75.9 555.5,59.3 581.1,58.6 606.8,58.0 632.4,75.7 658.0,79.7 683.7,78.8" fill="none" stroke="#6dc44c" stroke-width="2.2" stroke-linejoin="round" stroke-linecap="square"/>
<polyline points="504.2,88.7 529.8,93.0 555.5,66.8 581.1,60.9 606.8,71.5 632.4,85.6 658.0,95.6 683.7,93.5" fill="none" stroke="#6dc44c" stroke-width="2.2" stroke-linejoin="round" stroke-linecap="square"/>
<polyline points="504.2,71.6 529.8,72.2 555.5,69.8 581.1,53.0 606.8,66.0 632.4,78.8 658.0,66.5 683.7,84.4" fill="none" stroke="#6dc44c" stroke-width="2.2" stroke-linejoin="round" stroke-linecap="square"/>
<polyline points="504.2,72.0 529.8,81.3 555.5,68.5 581.1,59.0 606.8,75.4 632.4,83.8 658.0,76.1 683.7,95.3" fill="none" stroke="#6dc44c" stroke-width="2.2" stroke-linejoin="round" stroke-linecap="square"/>
<polyline points="504.2,87.0 529.8,90.6 555.5,68.9 581.1,61.9 606.8,60.4 632.4,85.9 658.0,79.7 683.7,85.7" fill="none" stroke="#6dc44c" stroke-width="2.2" stroke-linejoin="round" stroke-linecap="square"/>
<polyline points="504.2,68.4 529.8,68.5 555.5,66.7 581.1,48.8 606.8,52.2 632.4,73.2 658.0,86.4 683.7,84.4" fill="none" stroke="#6dc44c" stroke-width="2.2" stroke-linejoin="round" stroke-linecap="square"/>
<polyline points="504.2,64.8 529.8,71.8 555.5,50.1 581.1,48.8 606.8,64.6 632.4,76.8 658.0,72.3 683.7,80.2" fill="none" stroke="#6dc44c" stroke-width="2.2" stroke-linejoin="round" stroke-linecap="square"/>
<polyline points="504.2,89.9 529.8,83.9 555.5,68.9 581.1,63.3 606.8,57.5 632.4,89.9 658.0,91.4 683.7,90.4" fill="none" stroke="#6dc44c" stroke-width="2.2" stroke-linejoin="round" stroke-linecap="square"/>
<polyline points="504.2,67.7 529.8,74.8 555.5,49.8 581.1,51.1 606.8,64.5 632.4,57.6 658.0,84.0 683.7,81.7" fill="none" stroke="#6dc44c" stroke-width="2.2" stroke-linejoin="round" stroke-linecap="square"/>
<polyline points="504.2,80.2 529.8,81.5 555.5,63.7 581.1,64.5 606.8,61.1 632.4,73.8 658.0,89.0 683.7,85.4" fill="none" stroke="#6dc44c" stroke-width="2.2" stroke-linejoin="round" stroke-linecap="square"/>
<polyline points="504.2,81.1 529.8,83.9 555.5,56.6 581.1,48.8 606.8,61.5 632.4,72.2 658.0,74.0 683.7,90.5" fill="none" stroke="#6dc44c" stroke-width="2.2" stroke-linejoin="round" stroke-linecap="square"/>
<polyline points="504.2,82.4 529.8,64.5 555.5,53.6 581.1,58.7 606.8,69.5 632.4,79.3 658.0,78.6 683.7,82.8" fill="none" stroke="#6dc44c" stroke-width="2.2" stroke-linejoin="round" stroke-linecap="square"/>
<polyline points="504.2,82.9 529.8,77.2 555.5,66.1 581.1,62.5 606.8,67.0 632.4,84.5 658.0,86.7 683.7,97.7" fill="none" stroke="#6dc44c" stroke-width="2.2" stroke-linejoin="round" stroke-linecap="square"/>
<polyline points="504.2,77.6 529.8,76.6 555.5,64.8 581.1,65.0 606.8,65.4 632.4,82.4 658.0,96.2 683.7,72.5" fill="none" stroke="#6dc44c" stroke-width="2.2" stroke-linejoin="round" stroke-linecap="square"/>
<polyline points="504.2,76.1 529.8,75.5 555.5,60.2 581.1,52.7 606.8,65.8 632.4,74.3 658.0,70.8 683.7,95.4" fill="none" stroke="#6dc44c" stroke-width="2.2" stroke-linejoin="round" stroke-linecap="square"/>
<polyline points="504.2,77.0 529.8,78.6 555.5,63.5 581.1,59.8 606.8,52.2 632.4,75.8 658.0,91.5 683.7,80.5" fill="none" stroke="#6dc44c" stroke-width="2.2" stroke-linejoin="round" stroke-linecap="square"/>
<polyline points="504.2,84.2 529.8,83.3 555.5,73.3 581.1,49.6 606.8,63.6 632.4,74.8 658.0,86.0 683.7,91.7" fill="none" stroke="#6dc44c" stroke-width="2.2" stroke-linejoin="round" stroke-linecap="square"/>
<polyline points="504.2,75.1 529.8,62.5 555.5,56.3 581.1,48.8 606.8,55.7 632.4,73.5 658.0,65.8 683.7,77.1" fill="none" stroke="#6dc44c" stroke-width="2.2" stroke-linejoin="round" stroke-linecap="square"/>
<polyline points="504.2,82.8 529.8,80.7 555.5,77.4 581.1,67.3 606.8,67.8 632.4,93.0 658.0,76.0 683.7,93.9" fill="none" stroke="#6dc44c" stroke-width="2.2" stroke-linejoin="round" stroke-linecap="square"/>
<polyline points="504.2,78.7 529.8,81.4 555.5,63.8 581.1,61.4 606.8,54.7 632.4,64.7 658.0,84.9 683.7,79.4" fill="none" stroke="#6dc44c" stroke-width="2.2" stroke-linejoin="round" stroke-linecap="square"/>
<polyline points="504.2,66.4 529.8,81.9 555.5,64.1 581.1,63.2 606.8,55.4 632.4,72.6 658.0,66.2 683.7,86.4" fill="none" stroke="#6dc44c" stroke-width="2.2" stroke-linejoin="round" stroke-linecap="square"/>
<polyline points="504.2,79.7 529.8,93.0 555.5,77.2 581.1,63.5 606.8,59.9 632.4,93.0 658.0,88.9 683.7,88.2" fill="none" stroke="#6dc44c" stroke-width="2.2" stroke-linejoin="round" stroke-linecap="square"/>
<polyline points="504.2,82.8 529.8,89.8 555.5,58.3 581.1,66.4 606.8,78.2 632.4,91.1 658.0,81.8 683.7,83.1" fill="none" stroke="#6dc44c" stroke-width="2.2" stroke-linejoin="round" stroke-linecap="square"/>
<polyline points="504.2,83.4 529.8,83.1 555.5,77.7 581.1,61.0 606.8,55.2 632.4,79.9 658.0,71.3 683.7,94.2" fill="none" stroke="#6dc44c" stroke-width="2.2" stroke-linejoin="round" stroke-linecap="square"/>
<polyline points="504.2,76.5 529.8,79.1 555.5,70.6 581.1,60.4 606.8,76.7 632.4,78.9 658.0,91.5 683.7,95.4" fill="none" stroke="#6dc44c" stroke-width="2.2" stroke-linejoin="round" stroke-linecap="square"/>
<polyline points="504.2,81.1 529.8,90.9 555.5,57.8 581.1,58.7 606.8,60.0 632.4,93.0 658.0,79.6 683.7,91.6" fill="none" stroke="#6dc44c" stroke-width="2.2" stroke-linejoin="round" stroke-linecap="square"/>
<polyline points="504.2,78.0 529.8,72.9 555.5,64.2 581.1,67.8 606.8,65.8 632.4,80.9 658.0,88.5 683.7,84.0" fill="none" stroke="#6dc44c" stroke-width="2.2" stroke-linejoin="round" stroke-linecap="square"/>
<polyline points="504.2,70.9 529.8,79.5 555.5,49.8 581.1,51.3 606.8,67.6 632.4,77.6 658.0,74.5 683.7,85.7" fill="none" stroke="#6dc44c" stroke-width="2.2" stroke-linejoin="round" stroke-linecap="square"/>
<polyline points="504.2,72.6 529.8,67.8 555.5,59.9 581.1,64.4 606.8,63.2 632.4,71.6 658.0,75.7 683.7,77.7" fill="none" stroke="#6dc44c" stroke-width="2.2" stroke-linejoin="round" stroke-linecap="square"/>
<polyline points="504.2,71.5 529.8,79.7 555.5,49.8 581.1,60.2 606.8,61.4 632.4,62.1 658.0,86.6 683.7,83.8" fill="none" stroke="#6dc44c" stroke-width="2.2" stroke-linejoin="round" stroke-linecap="square"/>
<polyline points="504.2,65.3 529.8,69.9 555.5,50.6 581.1,55.3 606.8,61.6 632.4,71.7 658.0,71.9 683.7,85.2" fill="none" stroke="#6dc44c" stroke-width="2.2" stroke-linejoin="round" stroke-linecap="square"/>
<polyline points="504.2,84.1 529.8,66.4 555.5,72.5 581.1,68.2 606.8,67.2 632.4,77.4 658.0,96.2 683.7,78.3" fill="none" stroke="#6dc44c" stroke-width="2.2" stroke-linejoin="round" stroke-linecap="square"/>
<polyline points="504.2,91.9 529.8,73.5 555.5,70.3 581.1,68.9 606.8,67.5 632.4,84.5 658.0,91.2 683.7,82.4" fill="none" stroke="#6dc44c" stroke-width="2.2" stroke-linejoin="round" stroke-linecap="square"/>
<polyline points="504.2,80.3 529.8,83.0 555.5,62.9 581.1,57.5 606.8,59.0 632.4,74.5 658.0,88.1 683.7,86.0" fill="none" stroke="#6dc44c" stroke-width="2.2" stroke-linejoin="round" stroke-linecap="square"/>
<polyline points="504.2,70.7 529.8,92.2 555.5,67.5 581.1,59.4 606.8,52.2 632.4,78.3 658.0,80.6 683.7,92.2" fill="none" stroke="#6dc44c" stroke-width="2.2" stroke-linejoin="round" stroke-linecap="square"/>
<polyline points="504.2,80.1 529.8,83.2 555.5,52.2 581.1,65.9 606.8,70.4 632.4,74.4 658.0,94.5 683.7,97.6" fill="none" stroke="#6dc44c" stroke-width="2.2" stroke-linejoin="round" stroke-linecap="square"/>
<polyline points="504.2,69.7 529.8,73.5 555.5,58.6 581.1,51.9 606.8,53.5 632.4,87.2 658.0,82.3 683.7,73.9" fill="none" stroke="#6dc44c" stroke-width="2.2" stroke-linejoin="round" stroke-linecap="square"/>
<polyline points="504.2,83.8 529.8,78.6 555.5,70.0 581.1,58.6 606.8,54.5 632.4,73.0 658.0,65.8 683.7,76.7" fill="none" stroke="#6dc44c" stroke-width="2.2" stroke-linejoin="round" stroke-linecap="square"/>
<polyline points="504.2,81.7 529.8,72.5 555.5,62.4 581.1,61.2 606.8,68.6 632.4,82.4 658.0,82.6 683.7,83.8" fill="none" stroke="#6dc44c" stroke-width="2.2" stroke-linejoin="round" stroke-linecap="square"/>
<polyline points="504.2,82.2 529.8,75.6 555.5,62.7 581.1,61.6 606.8,69.0 632.4,82.9 658.0,85.4 683.7,89.7" fill="none" stroke="#6dc44c" stroke-width="2.2" stroke-linejoin="round" stroke-linecap="square"/>
<polyline points="504.2,64.8 529.8,62.5 555.5,49.8 581.1,48.8 606.8,52.2 632.4,54.5 658.0,65.8 683.7,71.7" fill="none" stroke="#6dc44c" stroke-width="2.2" stroke-linejoin="round" stroke-linecap="square"/>
<polyline points="504.2,91.9 529.8,93.0 555.5,79.2 581.1,68.9 606.8,85.0 632.4,93.0 658.0,96.2 683.7,101.0" fill="none" stroke="#6dc44c" stroke-width="2.2" stroke-linejoin="round" stroke-linecap="square"/>
<polyline points="504.2,70.0 529.8,68.0 555.5,41.0 581.1,55.0 606.8,60.0 632.4,66.0 658.0,75.0 683.7,80.0" fill="none" stroke="#6dc44c" stroke-width="2.2" stroke-linejoin="round" stroke-linecap="square"/>
<polyline points="504.2,75.0 529.8,78.0 555.5,62.0 581.1,79.0 606.8,70.0 632.4,72.0 658.0,80.0 683.7,84.0" fill="none" stroke="#6dc44c" stroke-width="2.2" stroke-linejoin="round" stroke-linecap="square"/>
<polyline points="504.2,72.0 529.8,74.0 555.5,60.0 581.1,57.0 606.8,62.0 632.4,70.0 658.0,53.7 683.7,78.0" fill="none" stroke="#6dc44c" stroke-width="2.2" stroke-linejoin="round" stroke-linecap="square"/>
<rect x="496.9" y="39.9" width="193.55" height="67.85" fill="none" stroke="#000" stroke-width="1.5"/>
<line x1="487.2" y1="48.1" x2="496.9" y2="48.1" stroke="#000" stroke-width="1.5"/>
<line x1="487.2" y1="61.0" x2="496.9" y2="61.0" stroke="#000" stroke-width="1.5"/>
<line x1="487.2" y1="74.0" x2="496.9" y2="74.0" stroke="#000" stroke-width="1.5"/>
<line x1="487.2" y1="87.0" x2="496.9" y2="87.0" stroke="#000" stroke-width="1.5"/>
<line x1="487.2" y1="99.9" x2="496.9" y2="99.9" stroke="#000" stroke-width="1.5"/>
<text transform="translate(481.9,50.2) rotate(-90)" font-size="9.3" text-anchor="middle" stroke="#000" stroke-width="0.3">2</text>
<text transform="translate(481.9,74.3) rotate(-90)" font-size="9.3" text-anchor="middle" stroke="#000" stroke-width="0.3">0</text>
<text transform="translate(481.9,102.6) rotate(-90)" font-size="9.3" text-anchor="middle" stroke="#000" stroke-width="0.3">-2</text>
<text transform="translate(461.8,74.7) rotate(-90)" font-size="9.5" text-anchor="middle" textLength="72.6" lengthAdjust="spacingAndGlyphs" stroke="#000" stroke-width="0.28">Gene Expression</text>
<line x1="504.2" y1="107.75" x2="504.2" y2="117.4" stroke="#000" stroke-width="1.5"/>
<text x="503.2" y="128.6" font-size="9.3" text-anchor="middle" stroke="#000" stroke-width="0.32">1</text>
<line x1="529.8" y1="107.75" x2="529.8" y2="117.4" stroke="#000" stroke-width="1.5"/>
<text x="530.1" y="128.6" font-size="9.3" text-anchor="middle" stroke="#000" stroke-width="0.32">2</text>
<line x1="555.5" y1="107.75" x2="555.5" y2="117.4" stroke="#000" stroke-width="1.5"/>
<text x="553.5" y="128.6" font-size="9.3" text-anchor="middle" stroke="#000" stroke-width="0.32">3</text>
<line x1="581.1" y1="107.75" x2="581.1" y2="117.4" stroke="#000" stroke-width="1.5"/>
<text x="581.4" y="128.6" font-size="9.3" text-anchor="middle" stroke="#000" stroke-width="0.32">4</text>
<line x1="606.8" y1="107.75" x2="606.8" y2="117.4" stroke="#000" stroke-width="1.5"/>
<text x="606.8" y="128.6" font-size="9.3" text-anchor="middle" stroke="#000" stroke-width="0.32">5</text>
<line x1="632.4" y1="107.75" x2="632.4" y2="117.4" stroke="#000" stroke-width="1.5"/>
<text x="630.3" y="128.6" font-size="9.3" text-anchor="middle" stroke="#000" stroke-width="0.32">6</text>
<line x1="658.0" y1="107.75" x2="658.0" y2="117.4" stroke="#000" stroke-width="1.5"/>
<text x="657.5" y="128.6" font-size="9.3" text-anchor="middle" stroke="#000" stroke-width="0.32">7</text>
<line x1="683.7" y1="107.75" x2="683.7" y2="117.4" stroke="#000" stroke-width="1.5"/>
<text x="683.4" y="128.6" font-size="9.3" text-anchor="middle" stroke="#000" stroke-width="0.32">8</text>
<text x="593.0" y="144.6" font-size="9.8" text-anchor="middle" textLength="37.2" lengthAdjust="spacingAndGlyphs" stroke="#000" stroke-width="0.28">Samples</text>
<line x1="512.5" y1="78.5" x2="521.5" y2="78.1" stroke="#000" stroke-width="1.6"/>
<line x1="537.1" y1="73.7" x2="548.2" y2="67.5" stroke="#000" stroke-width="1.6"/>
<line x1="563.6" y1="62.0" x2="573.0" y2="60.4" stroke="#000" stroke-width="1.6"/>
<line x1="589.1" y1="61.2" x2="598.8" y2="64.0" stroke="#000" stroke-width="1.6"/>
<line x1="614.3" y1="69.7" x2="624.8" y2="74.4" stroke="#000" stroke-width="1.6"/>
<line x1="640.6" y1="78.9" x2="649.8" y2="80.1" stroke="#000" stroke-width="1.6"/>
<line x1="666.2" y1="82.7" x2="675.5" y2="84.3" stroke="#000" stroke-width="1.6"/>
<path d="M504.2 72.0V85.8M502.3 72.0H506.1M502.3 85.8H506.1" stroke="#000" stroke-width="1.3" fill="none"/>
<circle cx="504.2" cy="78.9" r="3.3" fill="none" stroke="#000" stroke-width="1.6"/>
<path d="M529.8 69.7V85.8M528.0 69.7H531.7M528.0 85.8H531.7" stroke="#000" stroke-width="1.3" fill="none"/>
<circle cx="529.8" cy="77.8" r="3.3" fill="none" stroke="#000" stroke-width="1.6"/>
<path d="M555.5 55.3V71.3M553.6 55.3H557.3M553.6 71.3H557.3" stroke="#000" stroke-width="1.3" fill="none"/>
<circle cx="555.5" cy="63.5" r="3.3" fill="none" stroke="#000" stroke-width="1.6"/>
<path d="M581.1 52.5V65.1M579.3 52.5H583.0M579.3 65.1H583.0" stroke="#000" stroke-width="1.3" fill="none"/>
<circle cx="581.1" cy="58.9" r="3.3" fill="none" stroke="#000" stroke-width="1.6"/>
<path d="M606.8 58.3V74.3M604.9 58.3H608.6M604.9 74.3H608.6" stroke="#000" stroke-width="1.3" fill="none"/>
<circle cx="606.8" cy="66.3" r="3.3" fill="none" stroke="#000" stroke-width="1.6"/>
<path d="M632.4 68.6V86.9M630.5 68.6H634.2M630.5 86.9H634.2" stroke="#000" stroke-width="1.3" fill="none"/>
<circle cx="632.4" cy="77.8" r="3.3" fill="none" stroke="#000" stroke-width="1.6"/>
<path d="M658.0 72.0V91.5M656.2 72.0H659.9M656.2 91.5H659.9" stroke="#000" stroke-width="1.3" fill="none"/>
<circle cx="658.0" cy="81.2" r="3.3" fill="none" stroke="#000" stroke-width="1.6"/>
<path d="M683.7 79.4V92.7M681.8 79.4H685.5M681.8 92.7H685.5" stroke="#000" stroke-width="1.3" fill="none"/>
<circle cx="683.7" cy="85.8" r="3.3" fill="none" stroke="#000" stroke-width="1.6"/>
<text x="716.2" y="78.2" font-size="19" textLength="68" lengthAdjust="spacingAndGlyphs" stroke="#000" stroke-width="0.45">Cluster 1</text>
</g>
<g>
<polyline points="503.9,197.4 529.5,223.8 555.2,227.6 580.8,209.7 606.5,190.6 632.1,209.6 657.7,200.0 683.4,194.1" fill="none" stroke="#6dc44c" stroke-width="2.2" stroke-linejoin="round" stroke-linecap="square"/>
<polyline points="503.9,200.8 529.5,226.8 555.2,213.5 580.8,192.7 606.5,185.3 632.1,220.0 657.7,206.0 683.4,198.9" fill="none" stroke="#6dc44c" stroke-width="2.2" stroke-linejoin="round" stroke-linecap="square"/>
<polyline points="503.9,207.7 529.5,221.5 555.2,218.6 580.8,213.4 606.5,194.2 632.1,202.3 657.7,209.8 683.4,217.1" fill="none" stroke="#6dc44c" stroke-width="2.2" stroke-linejoin="round" stroke-linecap="square"/>
<polyline points="503.9,219.9 529.5,218.4 555.2,224.2 580.8,215.6 606.5,195.0 632.1,220.7 657.7,219.2 683.4,219.8" fill="none" stroke="#6dc44c" stroke-width="2.2" stroke-linejoin="round" stroke-linecap="square"/>
<polyline points="503.9,221.2 529.5,229.0 555.2,218.3 580.8,207.4 606.5,210.6 632.1,202.6 657.7,215.1 683.4,214.8" fill="none" stroke="#6dc44c" stroke-width="2.2" stroke-linejoin="round" stroke-linecap="square"/>
<polyline points="503.9,198.8 529.5,222.8 555.2,223.4 580.8,214.3 606.5,198.4 632.1,206.8 657.7,216.1 683.4,212.6" fill="none" stroke="#6dc44c" stroke-width="2.2" stroke-linejoin="round" stroke-linecap="square"/>
<polyline points="503.9,208.9 529.5,220.7 555.2,226.5 580.8,202.4 606.5,189.0 632.1,207.7 657.7,197.7 683.4,206.4" fill="none" stroke="#6dc44c" stroke-width="2.2" stroke-linejoin="round" stroke-linecap="square"/>
<polyline points="503.9,192.6 529.5,216.5 555.2,215.7 580.8,199.9 606.5,181.4 632.1,187.2 657.7,213.3 683.4,202.9" fill="none" stroke="#6dc44c" stroke-width="2.2" stroke-linejoin="round" stroke-linecap="square"/>
<polyline points="503.9,206.2 529.5,225.1 555.2,213.0 580.8,216.3 606.5,204.6 632.1,196.7 657.7,214.4 683.4,218.4" fill="none" stroke="#6dc44c" stroke-width="2.2" stroke-linejoin="round" stroke-linecap="square"/>
<polyline points="503.9,187.8 529.5,206.4 555.2,208.4 580.8,193.0 606.5,184.5 632.1,199.2 657.7,204.6 683.4,205.4" fill="none" stroke="#6dc44c" stroke-width="2.2" stroke-linejoin="round" stroke-linecap="square"/>
<polyline points="503.9,221.2 529.5,219.2 555.2,224.1 580.8,207.2 606.5,191.8 632.1,214.0 657.7,217.1 683.4,219.3" fill="none" stroke="#6dc44c" stroke-width="2.2" stroke-linejoin="round" stroke-linecap="square"/>
<polyline points="503.9,190.5 529.5,214.3 555.2,212.2 580.8,200.0 606.5,184.6 632.1,191.8 657.7,206.2 683.4,203.7" fill="none" stroke="#6dc44c" stroke-width="2.2" stroke-linejoin="round" stroke-linecap="square"/>
<polyline points="503.9,202.0 529.5,219.9 555.2,206.8 580.8,201.7 606.5,192.5 632.1,193.7 657.7,210.1 683.4,209.3" fill="none" stroke="#6dc44c" stroke-width="2.2" stroke-linejoin="round" stroke-linecap="square"/>
<polyline points="503.9,198.9 529.5,213.3 555.2,217.8 580.8,206.1 606.5,185.8 632.1,192.2 657.7,200.2 683.4,201.6" fill="none" stroke="#6dc44c" stroke-width="2.2" stroke-linejoin="round" stroke-linecap="square"/>
<polyline points="503.9,213.3 529.5,219.8 555.2,214.6 580.8,208.3 606.5,190.7 632.1,201.3 657.7,211.9 683.4,208.5" fill="none" stroke="#6dc44c" stroke-width="2.2" stroke-linejoin="round" stroke-linecap="square"/>
<polyline points="503.9,211.9 529.5,219.1 555.2,237.6 580.8,206.2 606.5,201.2 632.1,208.2 657.7,218.9 683.4,192.8" fill="none" stroke="#6dc44c" stroke-width="2.2" stroke-linejoin="round" stroke-linecap="square"/>
<polyline points="503.9,205.7 529.5,222.3 555.2,233.8 580.8,206.8 606.5,198.4 632.1,208.9 657.7,212.8 683.4,208.8" fill="none" stroke="#6dc44c" stroke-width="2.2" stroke-linejoin="round" stroke-linecap="square"/>
<polyline points="503.9,210.6 529.5,213.4 555.2,228.4 580.8,201.2 606.5,193.7 632.1,223.3 657.7,206.2 683.4,208.0" fill="none" stroke="#6dc44c" stroke-width="2.2" stroke-linejoin="round" stroke-linecap="square"/>
<polyline points="503.9,213.4 529.5,221.1 555.2,227.9 580.8,215.4 606.5,203.3 632.1,206.4 657.7,230.0 683.4,225.7" fill="none" stroke="#6dc44c" stroke-width="2.2" stroke-linejoin="round" stroke-linecap="square"/>
<polyline points="503.9,209.6 529.5,218.6 555.2,230.8 580.8,203.7 606.5,197.6 632.1,202.7 657.7,203.2 683.4,213.9" fill="none" stroke="#6dc44c" stroke-width="2.2" stroke-linejoin="round" stroke-linecap="square"/>
<polyline points="503.9,213.9 529.5,222.8 555.2,232.5 580.8,212.4 606.5,201.2 632.1,224.6 657.7,225.7 683.4,211.1" fill="none" stroke="#6dc44c" stroke-width="2.2" stroke-linejoin="round" stroke-linecap="square"/>
<polyline points="503.9,218.6 529.5,234.9 555.2,226.6 580.8,216.0 606.5,190.6 632.1,224.6 657.7,230.2 683.4,210.5" fill="none" stroke="#6dc44c" stroke-width="2.2" stroke-linejoin="round" stroke-linecap="square"/>
<polyline points="503.9,188.0 529.5,222.9 555.2,210.7 580.8,201.7 606.5,183.2 632.1,197.5 657.7,195.2 683.4,201.7" fill="none" stroke="#6dc44c" stroke-width="2.2" stroke-linejoin="round" stroke-linecap="square"/>
<polyline points="503.9,200.0 529.5,217.2 555.2,217.6 580.8,201.0 606.5,179.2 632.1,200.2 657.7,197.0 683.4,213.2" fill="none" stroke="#6dc44c" stroke-width="2.2" stroke-linejoin="round" stroke-linecap="square"/>
<polyline points="503.9,210.4 529.5,221.7 555.2,219.4 580.8,205.2 606.5,193.7 632.1,213.2 657.7,217.4 683.4,216.4" fill="none" stroke="#6dc44c" stroke-width="2.2" stroke-linejoin="round" stroke-linecap="square"/>
<polyline points="503.9,212.4 529.5,230.9 555.2,240.6 580.8,204.8 606.5,198.7 632.1,219.3 657.7,221.6 683.4,221.5" fill="none" stroke="#6dc44c" stroke-width="2.2" stroke-linejoin="round" stroke-linecap="square"/>
<polyline points="503.9,209.1 529.5,220.8 555.2,225.1 580.8,195.9 606.5,185.0 632.1,205.3 657.7,198.9 683.4,199.8" fill="none" stroke="#6dc44c" stroke-width="2.2" stroke-linejoin="round" stroke-linecap="square"/>
<polyline points="503.9,205.7 529.5,228.6 555.2,228.9 580.8,211.8 606.5,199.3 632.1,209.1 657.7,200.5 683.4,211.3" fill="none" stroke="#6dc44c" stroke-width="2.2" stroke-linejoin="round" stroke-linecap="square"/>
<polyline points="503.9,205.7 529.5,222.8 555.2,228.1 580.8,204.3 606.5,199.4 632.1,224.5 657.7,206.7 683.4,211.8" fill="none" stroke="#6dc44c" stroke-width="2.2" stroke-linejoin="round" stroke-linecap="square"/>
<polyline points="503.9,218.4 529.5,223.0 555.2,226.4 580.8,203.1 606.5,191.8 632.1,205.7 657.7,195.2 683.4,218.4" fill="none" stroke="#6dc44c" stroke-width="2.2" stroke-linejoin="round" stroke-linecap="square"/>
<polyline points="503.9,198.7 529.5,230.6 555.2,224.0 580.8,213.7 606.5,199.5 632.1,199.0 657.7,212.0 683.4,223.8" fill="none" stroke="#6dc44c" stroke-width="2.2" stroke-linejoin="round" stroke-linecap="square"/>
<polyline points="503.9,197.0 529.5,209.7 555.2,209.6 580.8,207.5 606.5,202.3 632.1,207.1 657.7,207.8 683.4,222.2" fill="none" stroke="#6dc44c" stroke-width="2.2" stroke-linejoin="round" stroke-linecap="square"/>
<polyline points="503.9,199.9 529.5,222.8 555.2,222.3 580.8,199.9 606.5,181.6 632.1,206.2 657.7,208.2 683.4,196.6" fill="none" stroke="#6dc44c" stroke-width="2.2" stroke-linejoin="round" stroke-linecap="square"/>
<polyline points="503.9,202.4 529.5,223.8 555.2,219.1 580.8,206.4 606.5,189.1 632.1,214.2 657.7,219.5 683.4,205.0" fill="none" stroke="#6dc44c" stroke-width="2.2" stroke-linejoin="round" stroke-linecap="square"/>
<polyline points="503.9,205.9 529.5,225.7 555.2,229.9 580.8,219.6 606.5,193.8 632.1,210.5 657.7,215.2 683.4,201.7" fill="none" stroke="#6dc44c" stroke-width="2.2" stroke-linejoin="round" stroke-linecap="square"/>
<polyline points="503.9,202.5 529.5,224.1 555.2,212.9 580.8,196.3 606.5,193.0 632.1,208.8 657.7,204.4 683.4,215.2" fill="none" stroke="#6dc44c" stroke-width="2.2" stroke-linejoin="round" stroke-linecap="square"/>
<polyline points="503.9,201.6 529.5,223.6 555.2,208.6 580.8,202.8 606.5,191.2 632.1,212.2 657.7,206.0 683.4,209.6" fill="none" stroke="#6dc44c" stroke-width="2.2" stroke-linejoin="round" stroke-linecap="square"/>
<polyline points="503.9,206.6 529.5,230.0 555.2,213.0 580.8,218.9 606.5,184.8 632.1,203.2 657.7,206.8 683.4,213.0" fill="none" stroke="#6dc44c" stroke-width="2.2" stroke-linejoin="round" stroke-linecap="square"/>
<polyline points="503.9,187.8 529.5,220.2 555.2,220.8 580.8,206.7 606.5,206.0 632.1,201.7 657.7,204.3 683.4,209.5" fill="none" stroke="#6dc44c" stroke-width="2.2" stroke-linejoin="round" stroke-linecap="square"/>
<polyline points="503.9,221.2 529.5,214.7 555.2,219.8 580.8,191.8 606.5,200.3 632.1,205.5 657.7,218.7 683.4,225.7" fill="none" stroke="#6dc44c" stroke-width="2.2" stroke-linejoin="round" stroke-linecap="square"/>
<polyline points="503.9,205.6 529.5,218.1 555.2,214.9 580.8,204.0 606.5,197.2 632.1,206.9 657.7,209.4 683.4,207.3" fill="none" stroke="#6dc44c" stroke-width="2.2" stroke-linejoin="round" stroke-linecap="square"/>
<polyline points="503.9,215.7 529.5,224.6 555.2,229.6 580.8,210.2 606.5,188.5 632.1,223.6 657.7,217.8 683.4,205.9" fill="none" stroke="#6dc44c" stroke-width="2.2" stroke-linejoin="round" stroke-linecap="square"/>
<polyline points="503.9,187.8 529.5,203.2 555.2,206.8 580.8,191.8 606.5,176.8 632.1,187.2 657.7,195.2 683.4,192.8" fill="none" stroke="#6dc44c" stroke-width="2.2" stroke-linejoin="round" stroke-linecap="square"/>
<polyline points="503.9,221.2 529.5,234.9 555.2,240.6 580.8,224.6 606.5,214.2 632.1,224.6 657.7,230.2 683.4,225.7" fill="none" stroke="#6dc44c" stroke-width="2.2" stroke-linejoin="round" stroke-linecap="square"/>
<polyline points="503.9,226.5 529.5,226.8 555.2,230.0 580.8,222.0 606.5,210.0 632.1,215.0 657.7,220.0 683.4,215.0" fill="none" stroke="#6dc44c" stroke-width="2.2" stroke-linejoin="round" stroke-linecap="square"/>
<polyline points="503.9,200.0 529.5,210.0 555.2,199.0 580.8,205.0 606.5,190.0 632.1,200.0 657.7,210.0 683.4,205.0" fill="none" stroke="#6dc44c" stroke-width="2.2" stroke-linejoin="round" stroke-linecap="square"/>
<polyline points="503.9,205.0 529.5,215.0 555.2,220.0 580.8,205.0 606.5,195.0 632.1,200.0 657.7,179.5 683.4,205.0" fill="none" stroke="#6dc44c" stroke-width="2.2" stroke-linejoin="round" stroke-linecap="square"/>
<rect x="496.2" y="175.83" width="193.87" height="68.07" fill="none" stroke="#000" stroke-width="1.5"/>
<line x1="486.5" y1="184.3" x2="496.2" y2="184.3" stroke="#000" stroke-width="1.5"/>
<line x1="486.5" y1="197.3" x2="496.2" y2="197.3" stroke="#000" stroke-width="1.5"/>
<line x1="486.5" y1="210.2" x2="496.2" y2="210.2" stroke="#000" stroke-width="1.5"/>
<line x1="486.5" y1="223.2" x2="496.2" y2="223.2" stroke="#000" stroke-width="1.5"/>
<line x1="486.5" y1="236.1" x2="496.2" y2="236.1" stroke="#000" stroke-width="1.5"/>
<text transform="translate(481.2,186.4) rotate(-90)" font-size="9.3" text-anchor="middle" stroke="#000" stroke-width="0.3">2</text>
<text transform="translate(481.2,210.5) rotate(-90)" font-size="9.3" text-anchor="middle" stroke="#000" stroke-width="0.3">0</text>
<text transform="translate(481.2,238.8) rotate(-90)" font-size="9.3" text-anchor="middle" stroke="#000" stroke-width="0.3">-2</text>
<text transform="translate(461.1,210.8) rotate(-90)" font-size="9.5" text-anchor="middle" textLength="72.6" lengthAdjust="spacingAndGlyphs" stroke="#000" stroke-width="0.28">Gene Expression</text>
<line x1="503.4" y1="243.9" x2="503.4" y2="253.6" stroke="#000" stroke-width="1.5"/>
<text x="502.4" y="264.8" font-size="9.3" text-anchor="middle" stroke="#000" stroke-width="0.32">1</text>
<line x1="529.0" y1="243.9" x2="529.0" y2="253.6" stroke="#000" stroke-width="1.5"/>
<text x="529.3" y="264.8" font-size="9.3" text-anchor="middle" stroke="#000" stroke-width="0.32">2</text>
<line x1="554.7" y1="243.9" x2="554.7" y2="253.6" stroke="#000" stroke-width="1.5"/>
<text x="552.7" y="264.8" font-size="9.3" text-anchor="middle" stroke="#000" stroke-width="0.32">3</text>
<line x1="580.3" y1="243.9" x2="580.3" y2="253.6" stroke="#000" stroke-width="1.5"/>
<text x="580.6" y="264.8" font-size="9.3" text-anchor="middle" stroke="#000" stroke-width="0.32">4</text>
<line x1="606.0" y1="243.9" x2="606.0" y2="253.6" stroke="#000" stroke-width="1.5"/>
<text x="606.0" y="264.8" font-size="9.3" text-anchor="middle" stroke="#000" stroke-width="0.32">5</text>
<line x1="631.6" y1="243.9" x2="631.6" y2="253.6" stroke="#000" stroke-width="1.5"/>
<text x="629.5" y="264.8" font-size="9.3" text-anchor="middle" stroke="#000" stroke-width="0.32">6</text>
<line x1="657.2" y1="243.9" x2="657.2" y2="253.6" stroke="#000" stroke-width="1.5"/>
<text x="656.7" y="264.8" font-size="9.3" text-anchor="middle" stroke="#000" stroke-width="0.32">7</text>
<line x1="682.9" y1="243.9" x2="682.9" y2="253.6" stroke="#000" stroke-width="1.5"/>
<text x="682.6" y="264.8" font-size="9.3" text-anchor="middle" stroke="#000" stroke-width="0.32">8</text>
<text x="592.2" y="280.8" font-size="9.8" text-anchor="middle" textLength="37.2" lengthAdjust="spacingAndGlyphs" stroke="#000" stroke-width="0.28">Samples</text>
<line x1="511.2" y1="211.5" x2="522.3" y2="217.5" stroke="#000" stroke-width="1.6"/>
<line x1="537.8" y1="221.3" x2="546.9" y2="221.0" stroke="#000" stroke-width="1.6"/>
<line x1="562.6" y1="217.0" x2="573.4" y2="211.5" stroke="#000" stroke-width="1.6"/>
<line x1="588.0" y1="203.5" x2="599.3" y2="196.8" stroke="#000" stroke-width="1.6"/>
<line x1="613.7" y1="196.6" x2="624.8" y2="202.6" stroke="#000" stroke-width="1.6"/>
<line x1="640.4" y1="207.3" x2="649.5" y2="208.2" stroke="#000" stroke-width="1.6"/>
<line x1="666.0" y1="208.8" x2="675.1" y2="208.7" stroke="#000" stroke-width="1.6"/>
<path d="M503.9 198.5V216.2M502.0 198.5H505.8M502.0 216.2H505.8" stroke="#000" stroke-width="1.3" fill="none"/>
<circle cx="503.9" cy="207.5" r="3.3" fill="none" stroke="#000" stroke-width="1.6"/>
<path d="M529.5 213.2V229.3M527.7 213.2H531.4M527.7 229.3H531.4" stroke="#000" stroke-width="1.3" fill="none"/>
<circle cx="529.5" cy="221.5" r="3.3" fill="none" stroke="#000" stroke-width="1.6"/>
<path d="M555.2 212.3V228.8M553.3 212.3H557.0M553.3 228.8H557.0" stroke="#000" stroke-width="1.3" fill="none"/>
<circle cx="555.2" cy="220.8" r="3.3" fill="none" stroke="#000" stroke-width="1.6"/>
<path d="M580.8 200.8V214.4M579.0 200.8H582.7M579.0 214.4H582.7" stroke="#000" stroke-width="1.3" fill="none"/>
<circle cx="580.8" cy="207.7" r="3.3" fill="none" stroke="#000" stroke-width="1.6"/>
<path d="M606.5 183.6V200.8M604.6 183.6H608.3M604.6 200.8H608.3" stroke="#000" stroke-width="1.3" fill="none"/>
<circle cx="606.5" cy="192.6" r="3.3" fill="none" stroke="#000" stroke-width="1.6"/>
<path d="M632.1 196.7V216.2M630.2 196.7H634.0M630.2 216.2H634.0" stroke="#000" stroke-width="1.3" fill="none"/>
<circle cx="632.1" cy="206.6" r="3.3" fill="none" stroke="#000" stroke-width="1.6"/>
<path d="M657.7 199.4V219.2M655.9 199.4H659.6M655.9 219.2H659.6" stroke="#000" stroke-width="1.3" fill="none"/>
<circle cx="657.7" cy="208.9" r="3.3" fill="none" stroke="#000" stroke-width="1.6"/>
<path d="M683.4 200.1V217.3M681.5 200.1H685.2M681.5 217.3H685.2" stroke="#000" stroke-width="1.3" fill="none"/>
<circle cx="683.4" cy="208.6" r="3.3" fill="none" stroke="#000" stroke-width="1.6"/>
<text x="716.2" y="213.9" font-size="19" textLength="69.2" lengthAdjust="spacingAndGlyphs" stroke="#000" stroke-width="0.45">Cluster 2</text>
</g>
<g>
<polyline points="503.9,324.1 529.5,322.3 555.2,353.0 580.8,342.3 606.5,343.0 632.1,350.0 657.7,346.6 683.4,337.6" fill="none" stroke="#6dc44c" stroke-width="2.2" stroke-linejoin="round" stroke-linecap="square"/>
<polyline points="503.9,321.9 529.5,331.1 555.2,343.7 580.8,340.5 606.5,341.1 632.1,345.7 657.7,347.1 683.4,331.8" fill="none" stroke="#6dc44c" stroke-width="2.2" stroke-linejoin="round" stroke-linecap="square"/>
<polyline points="503.9,320.4 529.5,336.4 555.2,332.0 580.8,334.4 606.5,341.2 632.1,339.8 657.7,345.7 683.4,357.5" fill="none" stroke="#6dc44c" stroke-width="2.2" stroke-linejoin="round" stroke-linecap="square"/>
<polyline points="503.9,325.3 529.5,323.6 555.2,338.3 580.8,336.3 606.5,333.4 632.1,351.8 657.7,364.5 683.4,339.5" fill="none" stroke="#6dc44c" stroke-width="2.2" stroke-linejoin="round" stroke-linecap="square"/>
<polyline points="503.9,318.7 529.5,318.2 555.2,337.5 580.8,337.7 606.5,328.2 632.1,345.0 657.7,320.0 683.4,348.5" fill="none" stroke="#6dc44c" stroke-width="2.2" stroke-linejoin="round" stroke-linecap="square"/>
<polyline points="503.9,309.8 529.5,317.2 555.2,326.5 580.8,335.8 606.5,326.4 632.1,334.3 657.7,335.8 683.4,350.2" fill="none" stroke="#6dc44c" stroke-width="2.2" stroke-linejoin="round" stroke-linecap="square"/>
<polyline points="503.9,320.2 529.5,337.7 555.2,338.6 580.8,329.5 606.5,347.2 632.1,354.2 657.7,319.3 683.4,344.8" fill="none" stroke="#6dc44c" stroke-width="2.2" stroke-linejoin="round" stroke-linecap="square"/>
<polyline points="503.9,325.2 529.5,335.5 555.2,336.6 580.8,332.2 606.5,335.0 632.1,352.8 657.7,331.9 683.4,338.4" fill="none" stroke="#6dc44c" stroke-width="2.2" stroke-linejoin="round" stroke-linecap="square"/>
<polyline points="503.9,309.8 529.5,326.6 555.2,333.3 580.8,339.0 606.5,327.7 632.1,337.8 657.7,336.3 683.4,344.5" fill="none" stroke="#6dc44c" stroke-width="2.2" stroke-linejoin="round" stroke-linecap="square"/>
<polyline points="503.9,315.5 529.5,330.9 555.2,342.1 580.8,343.7 606.5,324.5 632.1,338.1 657.7,319.1 683.4,358.0" fill="none" stroke="#6dc44c" stroke-width="2.2" stroke-linejoin="round" stroke-linecap="square"/>
<polyline points="503.9,315.1 529.5,329.0 555.2,323.4 580.8,336.6 606.5,329.2 632.1,328.2 657.7,338.8 683.4,351.5" fill="none" stroke="#6dc44c" stroke-width="2.2" stroke-linejoin="round" stroke-linecap="square"/>
<polyline points="503.9,315.6 529.5,321.3 555.2,331.3 580.8,332.3 606.5,333.1 632.1,334.1 657.7,337.1 683.4,330.9" fill="none" stroke="#6dc44c" stroke-width="2.2" stroke-linejoin="round" stroke-linecap="square"/>
<polyline points="503.9,316.0 529.5,331.3 555.2,352.5 580.8,341.7 606.5,334.6 632.1,339.3 657.7,337.3 683.4,350.9" fill="none" stroke="#6dc44c" stroke-width="2.2" stroke-linejoin="round" stroke-linecap="square"/>
<polyline points="503.9,324.1 529.5,336.9 555.2,340.7 580.8,347.5 606.5,333.9 632.1,344.3 657.7,356.8 683.4,351.0" fill="none" stroke="#6dc44c" stroke-width="2.2" stroke-linejoin="round" stroke-linecap="square"/>
<polyline points="503.9,313.6 529.5,325.4 555.2,339.8 580.8,337.6 606.5,323.3 632.1,345.6 657.7,340.7 683.4,334.7" fill="none" stroke="#6dc44c" stroke-width="2.2" stroke-linejoin="round" stroke-linecap="square"/>
<polyline points="503.9,319.3 529.5,329.8 555.2,346.0 580.8,346.7 606.5,331.3 632.1,350.3 657.7,336.6 683.4,362.2" fill="none" stroke="#6dc44c" stroke-width="2.2" stroke-linejoin="round" stroke-linecap="square"/>
<polyline points="503.9,323.1 529.5,321.5 555.2,340.2 580.8,347.2 606.5,313.5 632.1,338.7 657.7,342.7 683.4,341.5" fill="none" stroke="#6dc44c" stroke-width="2.2" stroke-linejoin="round" stroke-linecap="square"/>
<polyline points="503.9,328.1 529.5,326.0 555.2,322.5 580.8,338.9 606.5,318.2 632.1,348.8 657.7,329.8 683.4,342.6" fill="none" stroke="#6dc44c" stroke-width="2.2" stroke-linejoin="round" stroke-linecap="square"/>
<polyline points="503.9,323.5 529.5,324.4 555.2,330.2 580.8,347.7 606.5,342.8 632.1,343.9 657.7,358.8 683.4,356.6" fill="none" stroke="#6dc44c" stroke-width="2.2" stroke-linejoin="round" stroke-linecap="square"/>
<polyline points="503.9,309.8 529.5,329.5 555.2,346.1 580.8,343.0 606.5,341.1 632.1,330.0 657.7,347.0 683.4,353.1" fill="none" stroke="#6dc44c" stroke-width="2.2" stroke-linejoin="round" stroke-linecap="square"/>
<polyline points="503.9,322.1 529.5,338.3 555.2,348.8 580.8,350.7 606.5,340.5 632.1,354.2 657.7,350.0 683.4,362.0" fill="none" stroke="#6dc44c" stroke-width="2.2" stroke-linejoin="round" stroke-linecap="square"/>
<polyline points="503.9,316.9 529.5,321.1 555.2,322.6 580.8,340.8 606.5,332.2 632.1,337.7 657.7,339.2 683.4,350.8" fill="none" stroke="#6dc44c" stroke-width="2.2" stroke-linejoin="round" stroke-linecap="square"/>
<polyline points="503.9,313.6 529.5,327.9 555.2,335.8 580.8,331.2 606.5,314.3 632.1,348.1 657.7,337.4 683.4,339.7" fill="none" stroke="#6dc44c" stroke-width="2.2" stroke-linejoin="round" stroke-linecap="square"/>
<polyline points="503.9,318.5 529.5,324.2 555.2,327.9 580.8,331.5 606.5,327.3 632.1,338.5 657.7,326.2 683.4,349.1" fill="none" stroke="#6dc44c" stroke-width="2.2" stroke-linejoin="round" stroke-linecap="square"/>
<polyline points="503.9,316.9 529.5,315.6 555.2,333.0 580.8,339.5 606.5,328.2 632.1,333.1 657.7,332.1 683.4,338.9" fill="none" stroke="#6dc44c" stroke-width="2.2" stroke-linejoin="round" stroke-linecap="square"/>
<polyline points="503.9,309.8 529.5,321.6 555.2,325.1 580.8,330.8 606.5,329.9 632.1,341.5 657.7,338.4 683.4,340.4" fill="none" stroke="#6dc44c" stroke-width="2.2" stroke-linejoin="round" stroke-linecap="square"/>
<polyline points="503.9,316.8 529.5,325.3 555.2,333.0 580.8,334.6 606.5,319.8 632.1,340.3 657.7,338.4 683.4,334.9" fill="none" stroke="#6dc44c" stroke-width="2.2" stroke-linejoin="round" stroke-linecap="square"/>
<polyline points="503.9,320.9 529.5,327.3 555.2,351.5 580.8,323.6 606.5,331.0 632.1,331.3 657.7,351.1 683.4,362.2" fill="none" stroke="#6dc44c" stroke-width="2.2" stroke-linejoin="round" stroke-linecap="square"/>
<polyline points="503.9,309.8 529.5,320.6 555.2,322.7 580.8,330.7 606.5,313.3 632.1,338.7 657.7,327.2 683.4,331.1" fill="none" stroke="#6dc44c" stroke-width="2.2" stroke-linejoin="round" stroke-linecap="square"/>
<polyline points="503.9,319.5 529.5,322.3 555.2,335.5 580.8,331.6 606.5,315.1 632.1,341.1 657.7,338.8 683.4,348.4" fill="none" stroke="#6dc44c" stroke-width="2.2" stroke-linejoin="round" stroke-linecap="square"/>
<polyline points="503.9,314.5 529.5,329.0 555.2,333.6 580.8,340.4 606.5,341.9 632.1,333.8 657.7,319.1 683.4,347.6" fill="none" stroke="#6dc44c" stroke-width="2.2" stroke-linejoin="round" stroke-linecap="square"/>
<polyline points="503.9,329.2 529.5,341.8 555.2,339.3 580.8,338.1 606.5,345.0 632.1,344.4 657.7,331.8 683.4,345.0" fill="none" stroke="#6dc44c" stroke-width="2.2" stroke-linejoin="round" stroke-linecap="square"/>
<polyline points="503.9,335.8 529.5,335.4 555.2,343.0 580.8,346.9 606.5,338.2 632.1,354.2 657.7,357.3 683.4,349.7" fill="none" stroke="#6dc44c" stroke-width="2.2" stroke-linejoin="round" stroke-linecap="square"/>
<polyline points="503.9,319.5 529.5,336.4 555.2,342.6 580.8,339.6 606.5,340.3 632.1,345.0 657.7,329.9 683.4,333.1" fill="none" stroke="#6dc44c" stroke-width="2.2" stroke-linejoin="round" stroke-linecap="square"/>
<polyline points="503.9,309.8 529.5,322.4 555.2,331.1 580.8,335.1 606.5,327.9 632.1,332.9 657.7,324.2 683.4,327.1" fill="none" stroke="#6dc44c" stroke-width="2.2" stroke-linejoin="round" stroke-linecap="square"/>
<polyline points="503.9,320.2 529.5,331.7 555.2,334.9 580.8,335.0 606.5,338.0 632.1,343.3 657.7,347.5 683.4,349.3" fill="none" stroke="#6dc44c" stroke-width="2.2" stroke-linejoin="round" stroke-linecap="square"/>
<polyline points="503.9,326.5 529.5,325.4 555.2,335.0 580.8,332.9 606.5,328.1 632.1,354.2 657.7,361.2 683.4,346.5" fill="none" stroke="#6dc44c" stroke-width="2.2" stroke-linejoin="round" stroke-linecap="square"/>
<polyline points="503.9,327.0 529.5,337.2 555.2,348.0 580.8,331.6 606.5,330.7 632.1,349.5 657.7,360.2 683.4,349.2" fill="none" stroke="#6dc44c" stroke-width="2.2" stroke-linejoin="round" stroke-linecap="square"/>
<polyline points="503.9,312.7 529.5,319.7 555.2,326.4 580.8,341.9 606.5,324.7 632.1,340.2 657.7,358.0 683.4,350.6" fill="none" stroke="#6dc44c" stroke-width="2.2" stroke-linejoin="round" stroke-linecap="square"/>
<polyline points="503.9,315.7 529.5,333.2 555.2,349.9 580.8,341.3 606.5,342.3 632.1,346.1 657.7,348.6 683.4,345.2" fill="none" stroke="#6dc44c" stroke-width="2.2" stroke-linejoin="round" stroke-linecap="square"/>
<polyline points="503.9,327.2 529.5,320.2 555.2,338.1 580.8,339.5 606.5,330.5 632.1,343.7 657.7,352.2 683.4,362.2" fill="none" stroke="#6dc44c" stroke-width="2.2" stroke-linejoin="round" stroke-linecap="square"/>
<polyline points="503.9,322.3 529.5,320.2 555.2,353.0 580.8,339.3 606.5,335.0 632.1,339.0 657.7,344.5 683.4,339.0" fill="none" stroke="#6dc44c" stroke-width="2.2" stroke-linejoin="round" stroke-linecap="square"/>
<polyline points="503.9,309.8 529.5,315.6 555.2,322.5 580.8,323.6 606.5,313.3 632.1,325.8 657.7,319.1 683.4,327.1" fill="none" stroke="#6dc44c" stroke-width="2.2" stroke-linejoin="round" stroke-linecap="square"/>
<polyline points="503.9,335.8 529.5,347.2 555.2,353.0 580.8,350.7 606.5,347.2 632.1,354.2 657.7,364.5 683.4,362.2" fill="none" stroke="#6dc44c" stroke-width="2.2" stroke-linejoin="round" stroke-linecap="square"/>
<polyline points="503.9,320.0 529.5,308.0 555.2,330.0 580.8,335.0 606.5,330.0 632.1,340.0 657.7,338.0 683.4,345.0" fill="none" stroke="#6dc44c" stroke-width="2.2" stroke-linejoin="round" stroke-linecap="square"/>
<polyline points="503.9,322.0 529.5,330.0 555.2,335.0 580.8,336.0 606.5,333.0 632.1,342.0 657.7,340.0 683.4,313.7" fill="none" stroke="#6dc44c" stroke-width="2.2" stroke-linejoin="round" stroke-linecap="square"/>
<rect x="496.5" y="301.08" width="193.57" height="68.07" fill="none" stroke="#000" stroke-width="1.5"/>
<line x1="486.8" y1="310.0" x2="496.5" y2="310.0" stroke="#000" stroke-width="1.5"/>
<line x1="486.8" y1="322.9" x2="496.5" y2="322.9" stroke="#000" stroke-width="1.5"/>
<line x1="486.8" y1="335.9" x2="496.5" y2="335.9" stroke="#000" stroke-width="1.5"/>
<line x1="486.8" y1="348.8" x2="496.5" y2="348.8" stroke="#000" stroke-width="1.5"/>
<line x1="486.8" y1="361.8" x2="496.5" y2="361.8" stroke="#000" stroke-width="1.5"/>
<text transform="translate(481.5,312.1) rotate(-90)" font-size="9.3" text-anchor="middle" stroke="#000" stroke-width="0.3">2</text>
<text transform="translate(481.5,336.2) rotate(-90)" font-size="9.3" text-anchor="middle" stroke="#000" stroke-width="0.3">0</text>
<text transform="translate(481.5,364.5) rotate(-90)" font-size="9.3" text-anchor="middle" stroke="#000" stroke-width="0.3">-2</text>
<text transform="translate(461.4,336.0) rotate(-90)" font-size="9.5" text-anchor="middle" textLength="72.6" lengthAdjust="spacingAndGlyphs" stroke="#000" stroke-width="0.28">Gene Expression</text>
<line x1="503.6" y1="369.15" x2="503.6" y2="378.8" stroke="#000" stroke-width="1.5"/>
<text x="502.6" y="390.0" font-size="9.3" text-anchor="middle" stroke="#000" stroke-width="0.32">1</text>
<line x1="529.2" y1="369.15" x2="529.2" y2="378.8" stroke="#000" stroke-width="1.5"/>
<text x="529.5" y="390.0" font-size="9.3" text-anchor="middle" stroke="#000" stroke-width="0.32">2</text>
<line x1="554.9" y1="369.15" x2="554.9" y2="378.8" stroke="#000" stroke-width="1.5"/>
<text x="552.9" y="390.0" font-size="9.3" text-anchor="middle" stroke="#000" stroke-width="0.32">3</text>
<line x1="580.5" y1="369.15" x2="580.5" y2="378.8" stroke="#000" stroke-width="1.5"/>
<text x="580.8" y="390.0" font-size="9.3" text-anchor="middle" stroke="#000" stroke-width="0.32">4</text>
<line x1="606.2" y1="369.15" x2="606.2" y2="378.8" stroke="#000" stroke-width="1.5"/>
<text x="606.2" y="390.0" font-size="9.3" text-anchor="middle" stroke="#000" stroke-width="0.32">5</text>
<line x1="631.8" y1="369.15" x2="631.8" y2="378.8" stroke="#000" stroke-width="1.5"/>
<text x="629.7" y="390.0" font-size="9.3" text-anchor="middle" stroke="#000" stroke-width="0.32">6</text>
<line x1="657.4" y1="369.15" x2="657.4" y2="378.8" stroke="#000" stroke-width="1.5"/>
<text x="656.9" y="390.0" font-size="9.3" text-anchor="middle" stroke="#000" stroke-width="0.32">7</text>
<line x1="683.1" y1="369.15" x2="683.1" y2="378.8" stroke="#000" stroke-width="1.5"/>
<text x="682.8" y="390.0" font-size="9.3" text-anchor="middle" stroke="#000" stroke-width="0.32">8</text>
<text x="592.4" y="406.0" font-size="9.8" text-anchor="middle" textLength="37.2" lengthAdjust="spacingAndGlyphs" stroke="#000" stroke-width="0.28">Samples</text>
<line x1="511.6" y1="321.2" x2="521.9" y2="325.4" stroke="#000" stroke-width="1.6"/>
<line x1="537.5" y1="331.1" x2="547.3" y2="334.1" stroke="#000" stroke-width="1.6"/>
<line x1="563.5" y1="336.6" x2="572.5" y2="336.6" stroke="#000" stroke-width="1.6"/>
<line x1="589.0" y1="335.3" x2="598.3" y2="333.8" stroke="#000" stroke-width="1.6"/>
<line x1="614.0" y1="335.9" x2="624.5" y2="340.5" stroke="#000" stroke-width="1.6"/>
<line x1="640.3" y1="342.9" x2="649.5" y2="341.7" stroke="#000" stroke-width="1.6"/>
<line x1="665.9" y1="342.1" x2="675.2" y2="343.7" stroke="#000" stroke-width="1.6"/>
<path d="M503.9 311.3V325.1M502.0 311.3H505.8M502.0 325.1H505.8" stroke="#000" stroke-width="1.3" fill="none"/>
<circle cx="503.9" cy="318.0" r="3.3" fill="none" stroke="#000" stroke-width="1.6"/>
<path d="M529.5 320.1V337.3M527.7 320.1H531.4M527.7 337.3H531.4" stroke="#000" stroke-width="1.3" fill="none"/>
<circle cx="529.5" cy="328.6" r="3.3" fill="none" stroke="#000" stroke-width="1.6"/>
<path d="M555.2 328.1V345.1M553.3 328.1H557.0M553.3 345.1H557.0" stroke="#000" stroke-width="1.3" fill="none"/>
<circle cx="555.2" cy="336.6" r="3.3" fill="none" stroke="#000" stroke-width="1.6"/>
<path d="M580.8 329.7V342.8M579.0 329.7H582.7M579.0 342.8H582.7" stroke="#000" stroke-width="1.3" fill="none"/>
<circle cx="580.8" cy="336.6" r="3.3" fill="none" stroke="#000" stroke-width="1.6"/>
<path d="M606.5 324.4V340.0M604.6 324.4H608.3M604.6 340.0H608.3" stroke="#000" stroke-width="1.3" fill="none"/>
<circle cx="606.5" cy="332.5" r="3.3" fill="none" stroke="#000" stroke-width="1.6"/>
<path d="M632.1 335.9V352.0M630.2 335.9H634.0M630.2 352.0H634.0" stroke="#000" stroke-width="1.3" fill="none"/>
<circle cx="632.1" cy="343.9" r="3.3" fill="none" stroke="#000" stroke-width="1.6"/>
<path d="M657.7 327.9V353.3M655.9 327.9H659.6M655.9 353.3H659.6" stroke="#000" stroke-width="1.3" fill="none"/>
<circle cx="657.7" cy="340.7" r="3.3" fill="none" stroke="#000" stroke-width="1.6"/>
<path d="M683.4 334.8V355.5M681.5 334.8H685.2M681.5 355.5H685.2" stroke="#000" stroke-width="1.3" fill="none"/>
<circle cx="683.4" cy="345.1" r="3.3" fill="none" stroke="#000" stroke-width="1.6"/>
<text x="716.2" y="339.4" font-size="19" textLength="69.2" lengthAdjust="spacingAndGlyphs" stroke="#000" stroke-width="0.45">Cluster 3</text>
</g>
<g>
<polyline points="504.1,475.0 529.7,439.0 555.4,476.0 581.0,478.0 606.7,470.0 632.3,482.0 657.9,462.0 683.6,450.0" fill="none" stroke="#6dc44c" stroke-width="2.2" stroke-linejoin="round" stroke-linecap="square"/>
<polyline points="504.1,463.0 529.7,461.0 555.4,478.0 581.0,470.0 606.7,462.0 632.3,466.0 657.9,445.0 683.6,452.0" fill="none" stroke="#6dc44c" stroke-width="2.2" stroke-linejoin="round" stroke-linecap="square"/>
<polyline points="504.1,470.0 529.7,468.0 555.4,492.0 581.0,484.0 606.7,488.0 632.3,493.0 657.9,476.0 683.6,475.5" fill="none" stroke="#6dc44c" stroke-width="2.2" stroke-linejoin="round" stroke-linecap="square"/>
<polyline points="504.1,480.0 529.7,479.0 555.4,494.0 581.0,485.0 606.7,476.0 632.3,488.0 657.9,470.0 683.6,446.0" fill="none" stroke="#6dc44c" stroke-width="2.2" stroke-linejoin="round" stroke-linecap="square"/>
<polyline points="504.1,466.0 529.7,463.0 555.4,480.0 581.0,473.0 606.7,468.0 632.3,474.0 657.9,460.0 683.6,448.0" fill="none" stroke="#6dc44c" stroke-width="2.2" stroke-linejoin="round" stroke-linecap="square"/>
<polyline points="504.1,472.0 529.7,472.0 555.4,486.0 581.0,476.0 606.7,461.0 632.3,470.0 657.9,458.0 683.6,462.0" fill="none" stroke="#6dc44c" stroke-width="2.2" stroke-linejoin="round" stroke-linecap="square"/>
<polyline points="504.1,478.0 529.7,474.0 555.4,488.0 581.0,481.0 606.7,484.0 632.3,478.0 657.9,472.0 683.6,445.0" fill="none" stroke="#6dc44c" stroke-width="2.2" stroke-linejoin="round" stroke-linecap="square"/>
<polyline points="504.1,468.0 529.7,476.0 555.4,483.0 581.0,468.0 606.7,490.0 632.3,480.0 657.9,465.0 683.6,454.0" fill="none" stroke="#6dc44c" stroke-width="2.2" stroke-linejoin="round" stroke-linecap="square"/>
<polyline points="504.1,474.0 529.7,466.0 555.4,476.0 581.0,482.0 606.7,472.0 632.3,465.0 657.9,455.0 683.6,450.0" fill="none" stroke="#6dc44c" stroke-width="2.2" stroke-linejoin="round" stroke-linecap="square"/>
<polyline points="504.1,462.0 529.7,470.0 555.4,482.0 581.0,479.0 606.7,478.0 632.3,486.0 657.9,468.0 683.6,447.0" fill="none" stroke="#6dc44c" stroke-width="2.2" stroke-linejoin="round" stroke-linecap="square"/>
<rect x="495.7" y="437.08" width="194.00" height="68.01" fill="none" stroke="#000" stroke-width="1.5"/>
<line x1="486.0" y1="446.0" x2="495.7" y2="446.0" stroke="#000" stroke-width="1.5"/>
<line x1="486.0" y1="458.9" x2="495.7" y2="458.9" stroke="#000" stroke-width="1.5"/>
<line x1="486.0" y1="471.9" x2="495.7" y2="471.9" stroke="#000" stroke-width="1.5"/>
<line x1="486.0" y1="484.8" x2="495.7" y2="484.8" stroke="#000" stroke-width="1.5"/>
<line x1="486.0" y1="497.8" x2="495.7" y2="497.8" stroke="#000" stroke-width="1.5"/>
<text transform="translate(480.7,448.1) rotate(-90)" font-size="9.3" text-anchor="middle" stroke="#000" stroke-width="0.3">2</text>
<text transform="translate(480.7,472.2) rotate(-90)" font-size="9.3" text-anchor="middle" stroke="#000" stroke-width="0.3">0</text>
<text transform="translate(480.7,500.5) rotate(-90)" font-size="9.3" text-anchor="middle" stroke="#000" stroke-width="0.3">-2</text>
<text transform="translate(460.6,472.0) rotate(-90)" font-size="9.5" text-anchor="middle" textLength="72.6" lengthAdjust="spacingAndGlyphs" stroke="#000" stroke-width="0.28">Gene Expression</text>
<line x1="503.3" y1="505.09" x2="503.3" y2="514.7" stroke="#000" stroke-width="1.5"/>
<text x="502.3" y="525.9" font-size="9.3" text-anchor="middle" stroke="#000" stroke-width="0.32">1</text>
<line x1="528.9" y1="505.09" x2="528.9" y2="514.7" stroke="#000" stroke-width="1.5"/>
<text x="529.2" y="525.9" font-size="9.3" text-anchor="middle" stroke="#000" stroke-width="0.32">2</text>
<line x1="554.6" y1="505.09" x2="554.6" y2="514.7" stroke="#000" stroke-width="1.5"/>
<text x="552.6" y="525.9" font-size="9.3" text-anchor="middle" stroke="#000" stroke-width="0.32">3</text>
<line x1="580.2" y1="505.09" x2="580.2" y2="514.7" stroke="#000" stroke-width="1.5"/>
<text x="580.5" y="525.9" font-size="9.3" text-anchor="middle" stroke="#000" stroke-width="0.32">4</text>
<line x1="605.9" y1="505.09" x2="605.9" y2="514.7" stroke="#000" stroke-width="1.5"/>
<text x="605.9" y="525.9" font-size="9.3" text-anchor="middle" stroke="#000" stroke-width="0.32">5</text>
<line x1="631.5" y1="505.09" x2="631.5" y2="514.7" stroke="#000" stroke-width="1.5"/>
<text x="629.4" y="525.9" font-size="9.3" text-anchor="middle" stroke="#000" stroke-width="0.32">6</text>
<line x1="657.1" y1="505.09" x2="657.1" y2="514.7" stroke="#000" stroke-width="1.5"/>
<text x="656.6" y="525.9" font-size="9.3" text-anchor="middle" stroke="#000" stroke-width="0.32">7</text>
<line x1="682.8" y1="505.09" x2="682.8" y2="514.7" stroke="#000" stroke-width="1.5"/>
<text x="682.5" y="525.9" font-size="9.3" text-anchor="middle" stroke="#000" stroke-width="0.32">8</text>
<text x="592.1" y="541.9" font-size="9.8" text-anchor="middle" textLength="37.2" lengthAdjust="spacingAndGlyphs" stroke="#000" stroke-width="0.28">Samples</text>
<line x1="512.4" y1="471.2" x2="521.5" y2="470.2" stroke="#000" stroke-width="1.6"/>
<line x1="537.1" y1="473.1" x2="548.0" y2="478.8" stroke="#000" stroke-width="1.6"/>
<line x1="563.5" y1="481.1" x2="572.9" y2="479.3" stroke="#000" stroke-width="1.6"/>
<line x1="589.1" y1="476.0" x2="598.6" y2="473.9" stroke="#000" stroke-width="1.6"/>
<line x1="614.8" y1="473.7" x2="624.2" y2="475.7" stroke="#000" stroke-width="1.6"/>
<line x1="640.0" y1="474.1" x2="650.3" y2="469.8" stroke="#000" stroke-width="1.6"/>
<line x1="665.1" y1="462.4" x2="676.4" y2="455.6" stroke="#000" stroke-width="1.6"/>
<path d="M504.1 465.4V478.5M502.2 465.4H505.9M502.2 478.5H505.9" stroke="#000" stroke-width="1.3" fill="none"/>
<circle cx="504.1" cy="472.1" r="3.3" fill="none" stroke="#000" stroke-width="1.6"/>
<path d="M529.7 457.8V480.8M527.9 457.8H531.6M527.9 480.8H531.6" stroke="#000" stroke-width="1.3" fill="none"/>
<circle cx="529.7" cy="469.3" r="3.3" fill="none" stroke="#000" stroke-width="1.6"/>
<path d="M555.4 476.7V489.5M553.5 476.7H557.2M553.5 489.5H557.2" stroke="#000" stroke-width="1.3" fill="none"/>
<circle cx="555.4" cy="482.6" r="3.3" fill="none" stroke="#000" stroke-width="1.6"/>
<path d="M581.0 473.2V482.4M579.2 473.2H582.9M579.2 482.4H582.9" stroke="#000" stroke-width="1.3" fill="none"/>
<circle cx="581.0" cy="477.8" r="3.3" fill="none" stroke="#000" stroke-width="1.6"/>
<path d="M606.7 463.1V480.8M604.8 463.1H608.5M604.8 480.8H608.5" stroke="#000" stroke-width="1.3" fill="none"/>
<circle cx="606.7" cy="472.1" r="3.3" fill="none" stroke="#000" stroke-width="1.6"/>
<path d="M632.3 469.3V486.1M630.4 469.3H634.1M630.4 486.1H634.1" stroke="#000" stroke-width="1.3" fill="none"/>
<circle cx="632.3" cy="477.3" r="3.3" fill="none" stroke="#000" stroke-width="1.6"/>
<path d="M657.9 456.7V475.7M656.1 456.7H659.8M656.1 475.7H659.8" stroke="#000" stroke-width="1.3" fill="none"/>
<circle cx="657.9" cy="466.6" r="3.3" fill="none" stroke="#000" stroke-width="1.6"/>
<path d="M683.6 442.2V460.8M681.7 442.2H685.4M681.7 460.8H685.4" stroke="#000" stroke-width="1.3" fill="none"/>
<circle cx="683.6" cy="451.4" r="3.3" fill="none" stroke="#000" stroke-width="1.6"/>
<text x="716.2" y="475.0" font-size="19" textLength="69.2" lengthAdjust="spacingAndGlyphs" stroke="#000" stroke-width="0.45">Cluster 4</text>
</g>
</svg></body></html>
